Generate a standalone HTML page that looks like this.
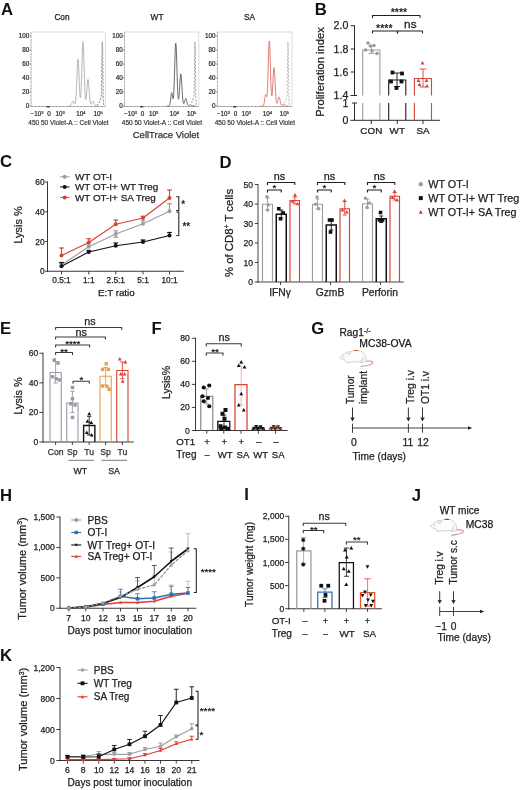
<!DOCTYPE html>
<html><head><meta charset="utf-8"><title>Figure</title>
<style>html,body{margin:0;padding:0;background:#fff}svg{display:block}text{font-family:'Liberation Sans', sans-serif}</style></head>
<body>
<svg width="520" height="790" viewBox="0 0 520 790" font-family="Liberation Sans, sans-serif">
<rect width="520" height="790" fill="#fff"/>
<text x="0.9" y="15" font-size="16.7" text-anchor="start" fill="#111" font-weight="bold">A</text>
<rect x="31" y="32" width="74.6" height="74.5" stroke="#b8b8b8" stroke-width="0.5" fill="none"/>
<line x1="31" y1="32" x2="31" y2="106.5" stroke="#777" stroke-width="0.8" stroke-dasharray="0.5 0.9"/>
<line x1="31" y1="106.5" x2="105.6" y2="106.5" stroke="#666" stroke-width="0.9" stroke-dasharray="0.6 0.8"/>
<text x="62" y="20" font-size="8.3" text-anchor="middle" fill="#222" stroke="#222" stroke-width="0.25">Con</text>
<text x="29.2" y="108.2" font-size="6.3" text-anchor="end" fill="#222" stroke="#222" stroke-width="0.18">0</text>
<line x1="29.5" y1="106.0" x2="31" y2="106.0" stroke="#444" stroke-width="0.6"/>
<text x="29.2" y="94.2" font-size="6.3" text-anchor="end" fill="#222" stroke="#222" stroke-width="0.18">20</text>
<line x1="29.5" y1="92.0" x2="31" y2="92.0" stroke="#444" stroke-width="0.6"/>
<text x="29.2" y="80.2" font-size="6.3" text-anchor="end" fill="#222" stroke="#222" stroke-width="0.18">40</text>
<line x1="29.5" y1="78.0" x2="31" y2="78.0" stroke="#444" stroke-width="0.6"/>
<text x="29.2" y="66.2" font-size="6.3" text-anchor="end" fill="#222" stroke="#222" stroke-width="0.18">60</text>
<line x1="29.5" y1="64.0" x2="31" y2="64.0" stroke="#444" stroke-width="0.6"/>
<text x="29.2" y="52.2" font-size="6.3" text-anchor="end" fill="#222" stroke="#222" stroke-width="0.18">80</text>
<line x1="29.5" y1="50.0" x2="31" y2="50.0" stroke="#444" stroke-width="0.6"/>
<text x="29.2" y="38.2" font-size="6.3" text-anchor="end" fill="#222" stroke="#222" stroke-width="0.18">100</text>
<line x1="29.5" y1="36.0" x2="31" y2="36.0" stroke="#444" stroke-width="0.6"/>
<text x="37" y="116" font-size="6.3" text-anchor="middle" fill="#222" stroke="#222" stroke-width="0.18">−10<tspan dy="-2.2" font-size="4">3</tspan></text>
<text x="49" y="116" font-size="6.3" text-anchor="middle" fill="#222" stroke="#222" stroke-width="0.18">0</text>
<text x="60" y="116" font-size="6.3" text-anchor="middle" fill="#222" stroke="#222" stroke-width="0.18">10<tspan dy="-2.2" font-size="4">3</tspan></text>
<text x="80.9" y="116" font-size="6.3" text-anchor="middle" fill="#222" stroke="#222" stroke-width="0.18">10<tspan dy="-2.2" font-size="4">4</tspan></text>
<text x="98" y="116" font-size="6.3" text-anchor="middle" fill="#222" stroke="#222" stroke-width="0.18">10<tspan dy="-2.2" font-size="4">5</tspan></text>
<rect x="46.67" y="106.2" width="3.2" height="1.2" stroke="none" stroke-width="1" fill="#222"/>
<text x="68.5" y="125.2" font-size="6.5" text-anchor="middle" fill="#333" stroke="#333" stroke-width="0.18">450 50 Violet-A :: Cell Violet</text>
<path d="M68 106.0 L68.25 106.0 L68.5 106.0 L68.75 106.0 L69.0 105.99 L69.25 105.99 L69.5 105.97 L69.75 105.94 L70.0 105.88 L70.25 105.78 L70.5 105.63 L70.75 105.4 L71.0 105.06 L71.25 104.62 L71.5 104.07 L71.75 103.43 L72.0 102.76 L72.25 102.12 L72.5 101.58 L72.75 101.22 L73.0 101.1 L73.25 101.22 L73.5 101.57 L73.75 102.09 L74.0 102.7 L74.25 103.29 L74.5 103.77 L74.75 104.02 L75.0 103.92 L75.25 103.33 L75.5 102.09 L75.75 100.0 L76.0 96.9 L76.25 92.71 L76.5 87.46 L76.75 81.39 L77.0 74.97 L77.25 68.82 L77.5 63.7 L77.75 60.29 L78.0 59.1 L78.25 60.29 L78.5 63.69 L78.75 68.79 L79.0 74.89 L79.25 81.22 L79.5 87.08 L79.75 91.95 L80.0 95.46 L80.25 97.38 L80.5 97.59 L80.75 95.99 L81.0 92.53 L81.25 87.24 L81.5 80.29 L81.75 72.09 L82.0 63.34 L82.25 54.93 L82.5 47.91 L82.75 43.24 L83.0 41.6 L83.25 43.24 L83.5 47.91 L83.75 54.94 L84.0 63.36 L84.25 72.15 L84.5 80.42 L84.75 87.49 L85.0 93.02 L85.25 96.88 L85.5 99.12 L85.75 99.89 L86.0 99.34 L86.25 97.68 L86.5 95.09 L86.75 91.86 L87.0 88.32 L87.25 84.88 L87.5 82.0 L87.75 80.07 L88.0 79.4 L88.25 80.08 L88.5 82.01 L88.75 84.91 L89.0 88.4 L89.25 92.04 L89.5 95.47 L89.75 98.43 L90.0 100.79 L90.25 102.5 L90.5 103.62 L90.75 104.23 L91.0 104.42 L91.25 104.28 L91.5 103.9 L91.75 103.35 L92.0 102.72 L92.25 102.1 L92.5 101.57 L92.75 101.22 L93.0 101.1 L93.25 101.22 L93.5 101.58 L93.75 102.12 L94.0 102.76 L94.25 103.43 L94.5 104.07 L94.75 104.62 L95.0 105.06 L95.25 105.4 L95.5 105.63 L95.75 105.78 L96.0 105.88 L96.25 105.94 L96.5 105.97 L96.75 105.99 L97.0 105.99 L97.25 106.0 L97.5 106.0 L97.75 106.0 L98.0 106.0" stroke="#a9a9b2" stroke-width="0.85" fill="none" stroke-linejoin="round"/>
<path d="M96.8 105.8C98.3 104.5 100.1 101 101.4 96L102.15 42L102.45 42L103.2 99L103.7 105.5" stroke="#a3a3a3" stroke-width="1.3" fill="none" stroke-dasharray="2.2 1.3" stroke-linejoin="round"/>
<rect x="124.5" y="32" width="74.4" height="74.5" stroke="#b8b8b8" stroke-width="0.5" fill="none"/>
<line x1="124.5" y1="32" x2="124.5" y2="106.5" stroke="#777" stroke-width="0.8" stroke-dasharray="0.5 0.9"/>
<line x1="124.5" y1="106.5" x2="198.9" y2="106.5" stroke="#666" stroke-width="0.9" stroke-dasharray="0.6 0.8"/>
<text x="157" y="20" font-size="8.3" text-anchor="middle" fill="#222" stroke="#222" stroke-width="0.25">WT</text>
<text x="122.7" y="108.2" font-size="6.3" text-anchor="end" fill="#222" stroke="#222" stroke-width="0.18">0</text>
<line x1="123.0" y1="106.0" x2="124.5" y2="106.0" stroke="#444" stroke-width="0.6"/>
<text x="122.7" y="94.2" font-size="6.3" text-anchor="end" fill="#222" stroke="#222" stroke-width="0.18">20</text>
<line x1="123.0" y1="92.0" x2="124.5" y2="92.0" stroke="#444" stroke-width="0.6"/>
<text x="122.7" y="80.2" font-size="6.3" text-anchor="end" fill="#222" stroke="#222" stroke-width="0.18">40</text>
<line x1="123.0" y1="78.0" x2="124.5" y2="78.0" stroke="#444" stroke-width="0.6"/>
<text x="122.7" y="66.2" font-size="6.3" text-anchor="end" fill="#222" stroke="#222" stroke-width="0.18">60</text>
<line x1="123.0" y1="64.0" x2="124.5" y2="64.0" stroke="#444" stroke-width="0.6"/>
<text x="122.7" y="52.2" font-size="6.3" text-anchor="end" fill="#222" stroke="#222" stroke-width="0.18">80</text>
<line x1="123.0" y1="50.0" x2="124.5" y2="50.0" stroke="#444" stroke-width="0.6"/>
<text x="122.7" y="38.2" font-size="6.3" text-anchor="end" fill="#222" stroke="#222" stroke-width="0.18">100</text>
<line x1="123.0" y1="36.0" x2="124.5" y2="36.0" stroke="#444" stroke-width="0.6"/>
<text x="130.5" y="116" font-size="6.3" text-anchor="middle" fill="#222" stroke="#222" stroke-width="0.18">−10<tspan dy="-2.2" font-size="4">3</tspan></text>
<text x="142.5" y="116" font-size="6.3" text-anchor="middle" fill="#222" stroke="#222" stroke-width="0.18">0</text>
<text x="153.5" y="116" font-size="6.3" text-anchor="middle" fill="#222" stroke="#222" stroke-width="0.18">10<tspan dy="-2.2" font-size="4">3</tspan></text>
<text x="174.4" y="116" font-size="6.3" text-anchor="middle" fill="#222" stroke="#222" stroke-width="0.18">10<tspan dy="-2.2" font-size="4">4</tspan></text>
<text x="191.5" y="116" font-size="6.3" text-anchor="middle" fill="#222" stroke="#222" stroke-width="0.18">10<tspan dy="-2.2" font-size="4">5</tspan></text>
<rect x="140.12" y="106.2" width="3.2" height="1.2" stroke="none" stroke-width="1" fill="#222"/>
<text x="162.0" y="125.2" font-size="6.5" text-anchor="middle" fill="#333" stroke="#333" stroke-width="0.18">450 50 Violet-A :: Cell Violet</text>
<path d="M166.7 106.0 L166.95 106.0 L167.2 106.0 L167.45 106.0 L167.7 106.0 L167.95 106.0 L168.2 105.99 L168.45 105.98 L168.7 105.95 L168.95 105.88 L169.2 105.72 L169.45 105.42 L169.7 104.87 L169.95 103.99 L170.2 102.68 L170.45 100.93 L170.7 98.82 L170.95 96.6 L171.2 94.59 L171.45 93.18 L171.7 92.64 L171.95 93.07 L172.2 94.3 L172.45 95.99 L172.7 97.64 L172.95 98.73 L173.2 98.83 L173.45 97.56 L173.7 94.69 L173.95 90.1 L174.2 83.85 L174.45 76.21 L174.7 67.74 L174.95 59.24 L175.2 51.7 L175.45 46.11 L175.7 43.26 L175.95 43.58 L176.2 47.03 L176.45 53.08 L176.7 60.89 L176.95 69.45 L177.2 77.82 L177.45 85.24 L177.7 91.22 L177.95 95.55 L178.2 98.2 L178.45 99.25 L178.7 98.84 L178.95 97.13 L179.2 94.29 L179.45 90.58 L179.7 86.35 L179.95 82.06 L180.2 78.23 L180.45 75.38 L180.7 73.93 L180.95 74.1 L181.2 75.86 L181.45 78.96 L181.7 82.95 L181.95 87.34 L182.2 91.64 L182.45 95.47 L182.7 98.61 L182.95 100.96 L183.2 102.55 L183.45 103.45 L183.7 103.76 L183.95 103.59 L184.2 103.06 L184.45 102.24 L184.7 101.27 L184.95 100.26 L185.2 99.35 L185.45 98.68 L185.7 98.33 L185.95 98.37 L186.2 98.79 L186.45 99.53 L186.7 100.49 L186.95 101.54 L187.2 102.57 L187.45 103.5 L187.7 104.26 L187.95 104.85 L188.2 105.27 L188.45 105.52 L188.7 105.65 L188.95 105.66 L189.2 105.56 L189.45 105.38 L189.7 105.14 L189.95 104.89 L190.2 104.69 L190.45 104.6 L190.7 104.64 L190.95 104.8 L191.2 105.05 L191.45 105.31 L191.7 105.55 L191.95 105.73 L192.2 105.85 L192.45 105.93 L192.7 105.97 L192.95 105.99 L193.2 106.0 L193.45 106.0 L193.7 106.0 L193.95 106.0 L194.2 106.0 L194.45 106.0 L194.7 106.0 L194.95 106.0 L195.2 106.0 L195.45 106.0" stroke="#5a5a5e" stroke-width="0.9" fill="none" stroke-linejoin="round"/>
<path d="M189.5 105.8C191 104.5 192.8 101 194.1 96L194.85 42L195.15 42L195.9 99L196.4 105.5" stroke="#a3a3a3" stroke-width="1.0" fill="none" stroke-dasharray="2.2 1.3" stroke-linejoin="round"/>
<rect x="217.4" y="32" width="74.6" height="74.5" stroke="#b8b8b8" stroke-width="0.5" fill="none"/>
<line x1="217.4" y1="32" x2="217.4" y2="106.5" stroke="#777" stroke-width="0.8" stroke-dasharray="0.5 0.9"/>
<line x1="217.4" y1="106.5" x2="292" y2="106.5" stroke="#666" stroke-width="0.9" stroke-dasharray="0.6 0.8"/>
<text x="249.5" y="20" font-size="8.3" text-anchor="middle" fill="#222" stroke="#222" stroke-width="0.25">SA</text>
<text x="215.6" y="108.2" font-size="6.3" text-anchor="end" fill="#222" stroke="#222" stroke-width="0.18">0</text>
<line x1="215.9" y1="106.0" x2="217.4" y2="106.0" stroke="#444" stroke-width="0.6"/>
<text x="215.6" y="94.2" font-size="6.3" text-anchor="end" fill="#222" stroke="#222" stroke-width="0.18">20</text>
<line x1="215.9" y1="92.0" x2="217.4" y2="92.0" stroke="#444" stroke-width="0.6"/>
<text x="215.6" y="80.2" font-size="6.3" text-anchor="end" fill="#222" stroke="#222" stroke-width="0.18">40</text>
<line x1="215.9" y1="78.0" x2="217.4" y2="78.0" stroke="#444" stroke-width="0.6"/>
<text x="215.6" y="66.2" font-size="6.3" text-anchor="end" fill="#222" stroke="#222" stroke-width="0.18">60</text>
<line x1="215.9" y1="64.0" x2="217.4" y2="64.0" stroke="#444" stroke-width="0.6"/>
<text x="215.6" y="52.2" font-size="6.3" text-anchor="end" fill="#222" stroke="#222" stroke-width="0.18">80</text>
<line x1="215.9" y1="50.0" x2="217.4" y2="50.0" stroke="#444" stroke-width="0.6"/>
<text x="215.6" y="38.2" font-size="6.3" text-anchor="end" fill="#222" stroke="#222" stroke-width="0.18">100</text>
<line x1="215.9" y1="36.0" x2="217.4" y2="36.0" stroke="#444" stroke-width="0.6"/>
<text x="223.4" y="116" font-size="6.3" text-anchor="middle" fill="#222" stroke="#222" stroke-width="0.18">−10<tspan dy="-2.2" font-size="4">3</tspan></text>
<text x="235.4" y="116" font-size="6.3" text-anchor="middle" fill="#222" stroke="#222" stroke-width="0.18">0</text>
<text x="246.4" y="116" font-size="6.3" text-anchor="middle" fill="#222" stroke="#222" stroke-width="0.18">10<tspan dy="-2.2" font-size="4">3</tspan></text>
<text x="267.3" y="116" font-size="6.3" text-anchor="middle" fill="#222" stroke="#222" stroke-width="0.18">10<tspan dy="-2.2" font-size="4">4</tspan></text>
<text x="284.4" y="116" font-size="6.3" text-anchor="middle" fill="#222" stroke="#222" stroke-width="0.18">10<tspan dy="-2.2" font-size="4">5</tspan></text>
<rect x="233.07" y="106.2" width="3.2" height="1.2" stroke="none" stroke-width="1" fill="#222"/>
<text x="254.9" y="125.2" font-size="6.5" text-anchor="middle" fill="#333" stroke="#333" stroke-width="0.18">450 50 Violet-A :: Cell Violet</text>
<path d="M260.6 106.0 L260.85 106.0 L261.1 106.0 L261.35 106.0 L261.6 106.0 L261.85 106.0 L262.1 105.99 L262.35 105.98 L262.6 105.96 L262.85 105.89 L263.1 105.76 L263.35 105.51 L263.6 105.05 L263.85 104.31 L264.1 103.21 L264.35 101.73 L264.6 99.95 L264.85 98.07 L265.1 96.36 L265.35 95.12 L265.6 94.57 L265.85 94.75 L266.1 95.46 L266.35 96.3 L266.6 96.76 L266.85 96.28 L267.1 94.4 L267.35 90.78 L267.6 85.33 L267.85 78.2 L268.1 69.86 L268.35 61.06 L268.6 52.79 L268.85 46.11 L269.1 41.96 L269.35 40.96 L269.6 43.26 L269.85 48.52 L270.1 55.96 L270.35 64.56 L270.6 73.29 L270.85 81.24 L271.1 87.74 L271.35 92.42 L271.6 95.12 L271.85 95.87 L272.1 94.79 L272.35 92.11 L272.6 88.15 L272.85 83.35 L273.1 78.28 L273.35 73.59 L273.6 69.93 L273.85 67.84 L274.1 67.65 L274.35 69.4 L274.6 72.82 L274.85 77.43 L275.1 82.63 L275.35 87.83 L275.6 92.56 L275.85 96.49 L276.1 99.49 L276.35 101.57 L276.6 102.8 L276.85 103.31 L277.1 103.23 L277.35 102.67 L277.6 101.77 L277.85 100.65 L278.1 99.45 L278.35 98.34 L278.6 97.48 L278.85 96.98 L279.1 96.94 L279.35 97.35 L279.6 98.16 L279.85 99.25 L280.1 100.48 L280.35 101.71 L280.6 102.84 L280.85 103.78 L281.1 104.51 L281.35 105.02 L281.6 105.34 L281.85 105.48 L282.1 105.48 L282.35 105.34 L282.6 105.09 L282.85 104.78 L283.1 104.44 L283.35 104.14 L283.6 103.95 L283.85 103.9 L284.1 104.01 L284.35 104.26 L284.6 104.59 L284.85 104.94 L285.1 105.26 L285.35 105.52 L285.6 105.72 L285.85 105.84 L286.1 105.92 L286.35 105.96 L286.6 105.98 L286.85 105.99 L287.1 106.0 L287.35 106.0 L287.6 106.0 L287.85 106.0 L288.1 106.0 L288.35 106.0 L288.6 106.0" stroke="#e0766c" stroke-width="0.95" fill="none" stroke-linejoin="round"/>
<path d="M282.5 105.8C284 104.5 285.8 101 287.1 96L287.85 42L288.15 42L288.9 99L289.4 105.5" stroke="#a3a3a3" stroke-width="0.7" fill="none" stroke-dasharray="2.2 1.3" stroke-linejoin="round"/>
<text x="166" y="138" font-size="9.5" text-anchor="middle" fill="#333" stroke="#333" stroke-width="0.25">CellTrace Violet</text>
<text x="314.8" y="15.2" font-size="16.7" text-anchor="start" fill="#111" font-weight="bold">B</text>
<text x="324" y="72" font-size="11.2" text-anchor="middle" fill="#222" transform="rotate(-90 324 72)" stroke="#222" stroke-width="0.25">Proliferation index</text>
<line x1="354.5" y1="25.3" x2="354.5" y2="95.5" stroke="#231f20" stroke-width="0.95"/>
<line x1="354.5" y1="103" x2="354.5" y2="120.7" stroke="#231f20" stroke-width="0.95"/>
<line x1="350.3" y1="120.3" x2="440" y2="120.3" stroke="#231f20" stroke-width="0.95"/>
<line x1="350.5" y1="95.5" x2="357" y2="95.5" stroke="#231f20" stroke-width="0.95"/>
<line x1="352" y1="103" x2="357" y2="103" stroke="#231f20" stroke-width="0.95"/>
<line x1="350.7" y1="25.75" x2="354.5" y2="25.75" stroke="#231f20" stroke-width="0.95"/>
<line x1="350.7" y1="49" x2="354.5" y2="49" stroke="#231f20" stroke-width="0.95"/>
<line x1="350.7" y1="72" x2="354.5" y2="72" stroke="#231f20" stroke-width="0.95"/>
<text x="348.3" y="29.45" font-size="10.6" text-anchor="end" fill="#222" stroke="#222" stroke-width="0.25">2.0</text>
<text x="348.3" y="52.7" font-size="10.6" text-anchor="end" fill="#222" stroke="#222" stroke-width="0.25">1.8</text>
<text x="348.3" y="75.7" font-size="10.6" text-anchor="end" fill="#222" stroke="#222" stroke-width="0.25">1.6</text>
<text x="348.3" y="98.7" font-size="10.6" text-anchor="end" fill="#222" stroke="#222" stroke-width="0.25">1.4</text>
<text x="348.3" y="106.9" font-size="10.6" text-anchor="end" fill="#222" stroke="#222" stroke-width="0.25">1</text>
<text x="348.3" y="124.2" font-size="10.6" text-anchor="end" fill="#222" stroke="#222" stroke-width="0.25">0</text>
<path d="M362.7 95.5V50H379.9V95.5" stroke="#9b9ba1" stroke-width="1.1" fill="none"/>
<line x1="362.7" y1="103" x2="362.7" y2="120" stroke="#9b9ba1" stroke-width="1.1"/>
<line x1="379.9" y1="103" x2="379.9" y2="120" stroke="#9b9ba1" stroke-width="1.1"/>
<line x1="371.3" y1="120.3" x2="371.3" y2="124" stroke="#231f20" stroke-width="0.95"/>
<text x="0" y="0" font-size="8.8" text-anchor="middle" fill="#222" transform="translate(371.3 134.2) scale(1.12 1)" stroke="#222" stroke-width="0.25">CON</text>
<path d="M388.7 95.5V80H405.8V95.5" stroke="#1a1a1a" stroke-width="1.1" fill="none"/>
<line x1="388.7" y1="103" x2="388.7" y2="120" stroke="#1a1a1a" stroke-width="1.1"/>
<line x1="405.8" y1="103" x2="405.8" y2="120" stroke="#1a1a1a" stroke-width="1.1"/>
<line x1="397.25" y1="120.3" x2="397.25" y2="124" stroke="#231f20" stroke-width="0.95"/>
<text x="0" y="0" font-size="8.8" text-anchor="middle" fill="#222" transform="translate(397.25 134.2) scale(1.12 1)" stroke="#222" stroke-width="0.25">WT</text>
<path d="M414.4 95.5V78.5H431.5V95.5" stroke="#d3473f" stroke-width="1.1" fill="none"/>
<line x1="414.4" y1="103" x2="414.4" y2="120" stroke="#d3473f" stroke-width="1.1"/>
<line x1="431.5" y1="103" x2="431.5" y2="120" stroke="#d3473f" stroke-width="1.1"/>
<line x1="422.95" y1="120.3" x2="422.95" y2="124" stroke="#231f20" stroke-width="0.95"/>
<text x="0" y="0" font-size="8.8" text-anchor="middle" fill="#222" transform="translate(422.95 134.2) scale(1.12 1)" stroke="#222" stroke-width="0.25">SA</text>
<circle cx="368" cy="43" r="1.8" fill="#9b9ba1" stroke="none" stroke-width="0"/>
<circle cx="370.5" cy="46" r="1.8" fill="#9b9ba1" stroke="none" stroke-width="0"/>
<circle cx="374" cy="45.5" r="1.8" fill="#9b9ba1" stroke="none" stroke-width="0"/>
<circle cx="372" cy="51" r="1.8" fill="#9b9ba1" stroke="none" stroke-width="0"/>
<circle cx="377" cy="53.5" r="1.8" fill="#9b9ba1" stroke="none" stroke-width="0"/>
<circle cx="365.5" cy="50" r="1.8" fill="#9b9ba1" stroke="none" stroke-width="0"/>
<line x1="371.5" y1="46" x2="371.5" y2="53.5" stroke="#9b9ba1" stroke-width="0.9"/>
<line x1="368.5" y1="46" x2="374.5" y2="46" stroke="#9b9ba1" stroke-width="0.9"/>
<line x1="368.5" y1="53.5" x2="374.5" y2="53.5" stroke="#9b9ba1" stroke-width="0.9"/>
<rect x="390.6" y="70.6" width="3.8" height="3.8" fill="#111"/>
<rect x="400.1" y="71.6" width="3.8" height="3.8" fill="#111"/>
<rect x="389.1" y="79.6" width="3.8" height="3.8" fill="#111"/>
<rect x="399.6" y="79.6" width="3.8" height="3.8" fill="#111"/>
<rect x="394.6" y="86.1" width="3.8" height="3.8" fill="#111"/>
<line x1="397" y1="73" x2="397" y2="86.5" stroke="#111" stroke-width="0.9"/>
<line x1="394" y1="73" x2="400" y2="73" stroke="#111" stroke-width="0.9"/>
<line x1="394" y1="86.5" x2="400" y2="86.5" stroke="#111" stroke-width="0.9"/>
<polygon points="420.5,64.6 424.5,64.6 422.5,61.0" fill="#d3473f"/>
<polygon points="416.5,82.1 420.5,82.1 418.5,78.5" fill="#d3473f"/>
<polygon points="424.5,82.1 428.5,82.1 426.5,78.5" fill="#d3473f"/>
<polygon points="417.5,86.1 421.5,86.1 419.5,82.5" fill="#d3473f"/>
<polygon points="425.0,87.6 429.0,87.6 427,84.0" fill="#d3473f"/>
<line x1="423" y1="69" x2="423" y2="87" stroke="#d3473f" stroke-width="0.9"/>
<line x1="419.5" y1="69" x2="426.5" y2="69" stroke="#d3473f" stroke-width="0.9"/>
<line x1="419.5" y1="87" x2="426.5" y2="87" stroke="#d3473f" stroke-width="0.9"/>
<path d="M372.5 17.5V15.5H420V17.5" stroke="#231f20" stroke-width="1.05" fill="none" stroke-linejoin="round" stroke-linecap="round"/>
<text x="399" y="16.36" font-size="10.6" text-anchor="middle" fill="#222" font-weight="bold">****</text>
<path d="M372.5 33V31H397.3V33" stroke="#231f20" stroke-width="1.05" fill="none" stroke-linejoin="round" stroke-linecap="round"/>
<path d="M397.7 33V31H422.5V33" stroke="#231f20" stroke-width="1.05" fill="none" stroke-linejoin="round" stroke-linecap="round"/>
<text x="384.3" y="31.66" font-size="10.6" text-anchor="middle" fill="#222" font-weight="bold">****</text>
<text x="0" y="0" font-size="11" text-anchor="middle" fill="#222" transform="translate(410.3 27.6) scale(1.08 1)" stroke="#222" stroke-width="0.25">ns</text>
<text x="0.1" y="167.3" font-size="16.7" text-anchor="start" fill="#111" font-weight="bold">C</text>
<text x="21.8" y="225" font-size="11" text-anchor="middle" fill="#222" transform="rotate(-90 21.8 225)" stroke="#222" stroke-width="0.25">Lysis %</text>
<line x1="47.5" y1="181.5" x2="47.5" y2="271.8" stroke="#231f20" stroke-width="0.9"/>
<line x1="47.0" y1="271.25" x2="183.8" y2="271.25" stroke="#231f20" stroke-width="0.9"/>
<line x1="45.1" y1="271.25" x2="47.5" y2="271.25" stroke="#231f20" stroke-width="0.85"/>
<text x="44.7" y="274.25" font-size="8.4" text-anchor="end" fill="#222" stroke="#222" stroke-width="0.25">0</text>
<line x1="45.1" y1="241.5" x2="47.5" y2="241.5" stroke="#231f20" stroke-width="0.85"/>
<text x="44.7" y="244.5" font-size="8.4" text-anchor="end" fill="#222" stroke="#222" stroke-width="0.25">20</text>
<line x1="45.1" y1="211.75" x2="47.5" y2="211.75" stroke="#231f20" stroke-width="0.85"/>
<text x="44.7" y="214.75" font-size="8.4" text-anchor="end" fill="#222" stroke="#222" stroke-width="0.25">40</text>
<line x1="45.1" y1="182.0" x2="47.5" y2="182.0" stroke="#231f20" stroke-width="0.85"/>
<text x="44.7" y="185.0" font-size="8.4" text-anchor="end" fill="#222" stroke="#222" stroke-width="0.25">60</text>
<line x1="61.5" y1="271.25" x2="61.5" y2="274.45" stroke="#231f20" stroke-width="0.85"/>
<text x="61.5" y="283.2" font-size="8.3" text-anchor="middle" fill="#222" stroke="#222" stroke-width="0.25">0.5:1</text>
<line x1="88.75" y1="271.25" x2="88.75" y2="274.45" stroke="#231f20" stroke-width="0.85"/>
<text x="88.75" y="283.2" font-size="8.3" text-anchor="middle" fill="#222" stroke="#222" stroke-width="0.25">1:1</text>
<line x1="115.75" y1="271.25" x2="115.75" y2="274.45" stroke="#231f20" stroke-width="0.85"/>
<text x="115.75" y="283.2" font-size="8.3" text-anchor="middle" fill="#222" stroke="#222" stroke-width="0.25">2.5:1</text>
<line x1="143" y1="271.25" x2="143" y2="274.45" stroke="#231f20" stroke-width="0.85"/>
<text x="143" y="283.2" font-size="8.3" text-anchor="middle" fill="#222" stroke="#222" stroke-width="0.25">5:1</text>
<line x1="169.5" y1="271.25" x2="169.5" y2="274.45" stroke="#231f20" stroke-width="0.85"/>
<text x="169.5" y="283.2" font-size="8.3" text-anchor="middle" fill="#222" stroke="#222" stroke-width="0.25">10:1</text>
<text x="116.3" y="296" font-size="9.8" text-anchor="middle" fill="#222" stroke="#222" stroke-width="0.25">E:T ratio</text>
<path d="M61.5 265 L88.75 246.75 L115.75 234 L143 223.75 L169.5 211.25" stroke="#9c9ca2" stroke-width="1.1" fill="none" stroke-linejoin="round"/>
<line x1="61.5" y1="263" x2="61.5" y2="265" stroke="#9c9ca2" stroke-width="1.1"/>
<line x1="59.2" y1="263" x2="63.8" y2="263" stroke="#9c9ca2" stroke-width="1.25"/>
<circle cx="61.5" cy="265" r="2.0" fill="#9c9ca2" stroke="none" stroke-width="0"/>
<line x1="88.75" y1="245" x2="88.75" y2="246.75" stroke="#9c9ca2" stroke-width="1.1"/>
<line x1="86.45" y1="245" x2="91.05" y2="245" stroke="#9c9ca2" stroke-width="1.25"/>
<circle cx="88.75" cy="246.75" r="2.0" fill="#9c9ca2" stroke="none" stroke-width="0"/>
<line x1="115.75" y1="230.75" x2="115.75" y2="237.2" stroke="#9c9ca2" stroke-width="1.1"/>
<line x1="113.45" y1="230.75" x2="118.05" y2="230.75" stroke="#9c9ca2" stroke-width="1.25"/>
<line x1="113.45" y1="237.2" x2="118.05" y2="237.2" stroke="#9c9ca2" stroke-width="1.25"/>
<circle cx="115.75" cy="234" r="2.0" fill="#9c9ca2" stroke="none" stroke-width="0"/>
<line x1="143" y1="220.75" x2="143" y2="223.75" stroke="#9c9ca2" stroke-width="1.1"/>
<line x1="140.7" y1="220.75" x2="145.3" y2="220.75" stroke="#9c9ca2" stroke-width="1.25"/>
<circle cx="143" cy="223.75" r="2.0" fill="#9c9ca2" stroke="none" stroke-width="0"/>
<line x1="169.5" y1="203.75" x2="169.5" y2="211.25" stroke="#9c9ca2" stroke-width="1.1"/>
<line x1="167.2" y1="203.75" x2="171.8" y2="203.75" stroke="#9c9ca2" stroke-width="1.25"/>
<circle cx="169.5" cy="211.25" r="2.0" fill="#9c9ca2" stroke="none" stroke-width="0"/>
<path d="M61.5 266.25 L88.75 252 L115.75 245.75 L143 242 L169.5 235.5" stroke="#111" stroke-width="1.1" fill="none" stroke-linejoin="round"/>
<line x1="61.5" y1="262.5" x2="61.5" y2="266.25" stroke="#111" stroke-width="1.1"/>
<line x1="59.2" y1="262.5" x2="63.8" y2="262.5" stroke="#111" stroke-width="1.25"/>
<circle cx="61.5" cy="266.25" r="2.0" fill="#111" stroke="none" stroke-width="0"/>
<line x1="88.75" y1="250.5" x2="88.75" y2="252" stroke="#111" stroke-width="1.1"/>
<line x1="86.45" y1="250.5" x2="91.05" y2="250.5" stroke="#111" stroke-width="1.25"/>
<circle cx="88.75" cy="252" r="2.0" fill="#111" stroke="none" stroke-width="0"/>
<line x1="115.75" y1="243" x2="115.75" y2="245.75" stroke="#111" stroke-width="1.1"/>
<line x1="113.45" y1="243" x2="118.05" y2="243" stroke="#111" stroke-width="1.25"/>
<circle cx="115.75" cy="245.75" r="2.0" fill="#111" stroke="none" stroke-width="0"/>
<line x1="143" y1="240" x2="143" y2="242" stroke="#111" stroke-width="1.1"/>
<line x1="140.7" y1="240" x2="145.3" y2="240" stroke="#111" stroke-width="1.25"/>
<circle cx="143" cy="242" r="2.0" fill="#111" stroke="none" stroke-width="0"/>
<line x1="169.5" y1="232.5" x2="169.5" y2="235.5" stroke="#111" stroke-width="1.1"/>
<line x1="167.2" y1="232.5" x2="171.8" y2="232.5" stroke="#111" stroke-width="1.25"/>
<circle cx="169.5" cy="235.5" r="2.0" fill="#111" stroke="none" stroke-width="0"/>
<path d="M61.5 255.5 L88.75 242.5 L115.75 224.3 L143 218 L169.5 198" stroke="#d8402f" stroke-width="1.1" fill="none" stroke-linejoin="round"/>
<line x1="61.5" y1="248" x2="61.5" y2="255.5" stroke="#d8402f" stroke-width="1.1"/>
<line x1="59.2" y1="248" x2="63.8" y2="248" stroke="#d8402f" stroke-width="1.25"/>
<circle cx="61.5" cy="255.5" r="2.0" fill="#d8402f" stroke="none" stroke-width="0"/>
<line x1="88.75" y1="238.75" x2="88.75" y2="242.5" stroke="#d8402f" stroke-width="1.1"/>
<line x1="86.45" y1="238.75" x2="91.05" y2="238.75" stroke="#d8402f" stroke-width="1.25"/>
<circle cx="88.75" cy="242.5" r="2.0" fill="#d8402f" stroke="none" stroke-width="0"/>
<line x1="115.75" y1="220" x2="115.75" y2="224.3" stroke="#d8402f" stroke-width="1.1"/>
<line x1="113.45" y1="220" x2="118.05" y2="220" stroke="#d8402f" stroke-width="1.25"/>
<circle cx="115.75" cy="224.3" r="2.0" fill="#d8402f" stroke="none" stroke-width="0"/>
<line x1="143" y1="216.25" x2="143" y2="218" stroke="#d8402f" stroke-width="1.1"/>
<line x1="140.7" y1="216.25" x2="145.3" y2="216.25" stroke="#d8402f" stroke-width="1.25"/>
<circle cx="143" cy="218" r="2.0" fill="#d8402f" stroke="none" stroke-width="0"/>
<line x1="169.5" y1="190" x2="169.5" y2="198" stroke="#d8402f" stroke-width="1.1"/>
<line x1="167.2" y1="190" x2="171.8" y2="190" stroke="#d8402f" stroke-width="1.25"/>
<circle cx="169.5" cy="198" r="2.0" fill="#d8402f" stroke="none" stroke-width="0"/>
<line x1="60" y1="176.75" x2="69.5" y2="176.75" stroke="#9c9ca2" stroke-width="1.0"/>
<circle cx="64.7" cy="176.75" r="2.0" fill="#9c9ca2" stroke="none" stroke-width="0"/>
<text x="75" y="180.15" font-size="9.9" text-anchor="start" fill="#222" stroke="#222" stroke-width="0.25">WT OT-I</text>
<line x1="60" y1="186.9" x2="69.5" y2="186.9" stroke="#111" stroke-width="1.0"/>
<circle cx="64.7" cy="186.9" r="2.0" fill="#111" stroke="none" stroke-width="0"/>
<text x="75" y="190.3" font-size="9.9" text-anchor="start" fill="#222" stroke="#222" stroke-width="0.25">WT OT-I+ WT Treg</text>
<line x1="60" y1="197.4" x2="69.5" y2="197.4" stroke="#d8402f" stroke-width="1.0"/>
<circle cx="64.7" cy="197.4" r="2.0" fill="#d8402f" stroke="none" stroke-width="0"/>
<text x="75" y="200.8" font-size="9.9" text-anchor="start" fill="#222" stroke="#222" stroke-width="0.25">WT OT-I+ SA Treg</text>
<path d="M176.3 196.8H178.8V210.5H176.3" stroke="#231f20" stroke-width="1.05" fill="none"/>
<path d="M176.3 212H178.8V235.5H176.3" stroke="#231f20" stroke-width="1.05" fill="none"/>
<text x="183.3" y="208.35" font-size="10" text-anchor="middle" fill="#222" font-weight="bold">*</text>
<text x="186.3" y="229.85" font-size="10" text-anchor="middle" fill="#222" font-weight="bold">**</text>
<text x="219.4" y="167.5" font-size="16.7" text-anchor="start" fill="#111" font-weight="bold">D</text>
<text x="232.5" y="233" font-size="11.4" text-anchor="middle" fill="#222" transform="rotate(-90 232.5 233)" stroke="#222" stroke-width="0.25">% of CD8<tspan dy="-3.5" font-size="6.5">+</tspan><tspan dy="3.5"> T cells</tspan></text>
<line x1="258" y1="184" x2="258" y2="282.5" stroke="#231f20" stroke-width="0.85"/>
<line x1="257.5" y1="282" x2="403.8" y2="282" stroke="#231f20" stroke-width="0.85"/>
<line x1="254.8" y1="282.0" x2="258" y2="282.0" stroke="#231f20" stroke-width="0.85"/>
<text x="253" y="285.0" font-size="8.6" text-anchor="end" fill="#222" stroke="#222" stroke-width="0.25">0</text>
<line x1="254.8" y1="262.5" x2="258" y2="262.5" stroke="#231f20" stroke-width="0.85"/>
<text x="253" y="265.5" font-size="8.6" text-anchor="end" fill="#222" stroke="#222" stroke-width="0.25">10</text>
<line x1="254.8" y1="243.0" x2="258" y2="243.0" stroke="#231f20" stroke-width="0.85"/>
<text x="253" y="246.0" font-size="8.6" text-anchor="end" fill="#222" stroke="#222" stroke-width="0.25">20</text>
<line x1="254.8" y1="223.5" x2="258" y2="223.5" stroke="#231f20" stroke-width="0.85"/>
<text x="253" y="226.5" font-size="8.6" text-anchor="end" fill="#222" stroke="#222" stroke-width="0.25">30</text>
<line x1="254.8" y1="204.0" x2="258" y2="204.0" stroke="#231f20" stroke-width="0.85"/>
<text x="253" y="207.0" font-size="8.6" text-anchor="end" fill="#222" stroke="#222" stroke-width="0.25">40</text>
<line x1="254.8" y1="184.5" x2="258" y2="184.5" stroke="#231f20" stroke-width="0.85"/>
<text x="253" y="187.5" font-size="8.6" text-anchor="end" fill="#222" stroke="#222" stroke-width="0.25">50</text>
<path d="M262.5 282V204.25H272.5V282" stroke="#9c9ca2" stroke-width="1.15" fill="none"/>
<path d="M276.25 282V214.25H286.25V282" stroke="#111" stroke-width="1.5" fill="none"/>
<path d="M290.0 282V200.5H299.5V282" stroke="#d8402f" stroke-width="1.15" fill="none"/>
<line x1="280.5" y1="282" x2="280.5" y2="285" stroke="#231f20" stroke-width="0.85"/>
<text x="280.0" y="296" font-size="10.3" text-anchor="middle" fill="#222" stroke="#222" stroke-width="0.25">IFNγ</text>
<path d="M267.5 184.5V182.5H294.8V184.5" stroke="#231f20" stroke-width="1.15" fill="none" stroke-linejoin="round" stroke-linecap="round"/>
<path d="M267.5 192V190H281.25V192" stroke="#231f20" stroke-width="1.15" fill="none" stroke-linejoin="round" stroke-linecap="round"/>
<text x="279.5" y="180.3" font-size="10.8" text-anchor="middle" fill="#222" stroke="#222" stroke-width="0.25">ns</text>
<text x="274.5" y="191.45" font-size="9.8" text-anchor="middle" fill="#222" font-weight="bold">*</text>
<path d="M312.5 282V204.25H322.5V282" stroke="#9c9ca2" stroke-width="1.15" fill="none"/>
<path d="M326.25 282V225H336.25V282" stroke="#111" stroke-width="1.5" fill="none"/>
<path d="M340.0 282V208.75H349.5V282" stroke="#d8402f" stroke-width="1.15" fill="none"/>
<line x1="330.5" y1="282" x2="330.5" y2="285" stroke="#231f20" stroke-width="0.85"/>
<text x="330.0" y="296" font-size="10.3" text-anchor="middle" fill="#222" stroke="#222" stroke-width="0.25">GzmB</text>
<path d="M317.5 184.5V182.5H344.8V184.5" stroke="#231f20" stroke-width="1.15" fill="none" stroke-linejoin="round" stroke-linecap="round"/>
<path d="M317.5 192V190H331.25V192" stroke="#231f20" stroke-width="1.15" fill="none" stroke-linejoin="round" stroke-linecap="round"/>
<text x="329.5" y="180.3" font-size="10.8" text-anchor="middle" fill="#222" stroke="#222" stroke-width="0.25">ns</text>
<text x="324.5" y="191.45" font-size="9.8" text-anchor="middle" fill="#222" font-weight="bold">*</text>
<path d="M362.5 282V203.75H372.5V282" stroke="#9c9ca2" stroke-width="1.15" fill="none"/>
<path d="M376.25 282V218.75H386.25V282" stroke="#111" stroke-width="1.5" fill="none"/>
<path d="M390.0 282V196.25H399.5V282" stroke="#d8402f" stroke-width="1.15" fill="none"/>
<line x1="380.5" y1="282" x2="380.5" y2="285" stroke="#231f20" stroke-width="0.85"/>
<text x="380.0" y="296" font-size="10.3" text-anchor="middle" fill="#222" stroke="#222" stroke-width="0.25">Perforin</text>
<path d="M367.5 184.5V182.5H394.8V184.5" stroke="#231f20" stroke-width="1.15" fill="none" stroke-linejoin="round" stroke-linecap="round"/>
<path d="M367.5 192V190H381.25V192" stroke="#231f20" stroke-width="1.15" fill="none" stroke-linejoin="round" stroke-linecap="round"/>
<text x="379.5" y="180.3" font-size="10.8" text-anchor="middle" fill="#222" stroke="#222" stroke-width="0.25">ns</text>
<text x="374.5" y="191.45" font-size="9.8" text-anchor="middle" fill="#222" font-weight="bold">*</text>
<line x1="267.5" y1="198" x2="267.5" y2="210" stroke="#9c9ca2" stroke-width="0.9"/>
<line x1="265.5" y1="198" x2="269.5" y2="198" stroke="#9c9ca2" stroke-width="0.9"/>
<line x1="265.5" y1="210" x2="269.5" y2="210" stroke="#9c9ca2" stroke-width="0.9"/>
<circle cx="267" cy="196.75" r="1.7" fill="#9c9ca2" stroke="none" stroke-width="0"/>
<circle cx="268.25" cy="205" r="1.7" fill="#9c9ca2" stroke="none" stroke-width="0"/>
<circle cx="267.5" cy="210" r="1.7" fill="#9c9ca2" stroke="none" stroke-width="0"/>
<line x1="281.25" y1="210" x2="281.25" y2="218" stroke="#111" stroke-width="0.9"/>
<line x1="279.25" y1="210" x2="283.25" y2="210" stroke="#111" stroke-width="0.9"/>
<line x1="279.25" y1="218" x2="283.25" y2="218" stroke="#111" stroke-width="0.9"/>
<rect x="276.95" y="206.95" width="3.6" height="3.6" fill="#111"/>
<rect x="281.45" y="211.2" width="3.6" height="3.6" fill="#111"/>
<rect x="278.7" y="216.95" width="3.6" height="3.6" fill="#111"/>
<line x1="294.75" y1="197" x2="294.75" y2="204" stroke="#d8402f" stroke-width="0.9"/>
<line x1="292.75" y1="197" x2="296.75" y2="197" stroke="#d8402f" stroke-width="0.9"/>
<line x1="292.75" y1="204" x2="296.75" y2="204" stroke="#d8402f" stroke-width="0.9"/>
<polygon points="293.1,196.52 296.9,196.52 295,193.1" fill="#d8402f"/>
<polygon points="290.6,202.77 294.4,202.77 292.5,199.35" fill="#d8402f"/>
<polygon points="295.6,205.27 299.4,205.27 297.5,201.85" fill="#d8402f"/>
<line x1="317.5" y1="199" x2="317.5" y2="209" stroke="#9c9ca2" stroke-width="0.9"/>
<line x1="315.5" y1="199" x2="319.5" y2="199" stroke="#9c9ca2" stroke-width="0.9"/>
<line x1="315.5" y1="209" x2="319.5" y2="209" stroke="#9c9ca2" stroke-width="0.9"/>
<circle cx="317" cy="197" r="1.7" fill="#9c9ca2" stroke="none" stroke-width="0"/>
<circle cx="315.5" cy="204.25" r="1.7" fill="#9c9ca2" stroke="none" stroke-width="0"/>
<circle cx="318.75" cy="208.75" r="1.7" fill="#9c9ca2" stroke="none" stroke-width="0"/>
<line x1="331.25" y1="220" x2="331.25" y2="230" stroke="#111" stroke-width="0.9"/>
<line x1="329.25" y1="220" x2="333.25" y2="220" stroke="#111" stroke-width="0.9"/>
<line x1="329.25" y1="230" x2="333.25" y2="230" stroke="#111" stroke-width="0.9"/>
<rect x="327.7" y="218.2" width="3.6" height="3.6" fill="#111"/>
<rect x="330.2" y="218.2" width="3.6" height="3.6" fill="#111"/>
<rect x="328.7" y="230.2" width="3.6" height="3.6" fill="#111"/>
<line x1="344.75" y1="201.5" x2="344.75" y2="215" stroke="#d8402f" stroke-width="0.9"/>
<line x1="342.75" y1="201.5" x2="346.75" y2="201.5" stroke="#d8402f" stroke-width="0.9"/>
<line x1="342.75" y1="215" x2="346.75" y2="215" stroke="#d8402f" stroke-width="0.9"/>
<polygon points="342.6,202.02 346.4,202.02 344.5,198.6" fill="#d8402f"/>
<polygon points="340.6,211.52 344.4,211.52 342.5,208.1" fill="#d8402f"/>
<polygon points="344.85,213.52 348.65,213.52 346.75,210.1" fill="#d8402f"/>
<line x1="367.5" y1="199" x2="367.5" y2="208" stroke="#9c9ca2" stroke-width="0.9"/>
<line x1="365.5" y1="199" x2="369.5" y2="199" stroke="#9c9ca2" stroke-width="0.9"/>
<line x1="365.5" y1="208" x2="369.5" y2="208" stroke="#9c9ca2" stroke-width="0.9"/>
<circle cx="365.5" cy="198.25" r="1.7" fill="#9c9ca2" stroke="none" stroke-width="0"/>
<circle cx="369.5" cy="203" r="1.7" fill="#9c9ca2" stroke="none" stroke-width="0"/>
<circle cx="367" cy="207.5" r="1.7" fill="#9c9ca2" stroke="none" stroke-width="0"/>
<line x1="381.25" y1="216" x2="381.25" y2="222.5" stroke="#111" stroke-width="0.9"/>
<line x1="379.25" y1="216" x2="383.25" y2="216" stroke="#111" stroke-width="0.9"/>
<line x1="379.25" y1="222.5" x2="383.25" y2="222.5" stroke="#111" stroke-width="0.9"/>
<rect x="378.7" y="210.7" width="3.6" height="3.6" fill="#111"/>
<rect x="377.7" y="218.2" width="3.6" height="3.6" fill="#111"/>
<rect x="380.7" y="218.2" width="3.6" height="3.6" fill="#111"/>
<line x1="394.75" y1="192.5" x2="394.75" y2="200" stroke="#d8402f" stroke-width="0.9"/>
<line x1="392.75" y1="192.5" x2="396.75" y2="192.5" stroke="#d8402f" stroke-width="0.9"/>
<line x1="392.75" y1="200" x2="396.75" y2="200" stroke="#d8402f" stroke-width="0.9"/>
<polygon points="392.6,192.77 396.4,192.77 394.5,189.35" fill="#d8402f"/>
<polygon points="390.6,199.02 394.4,199.02 392.5,195.6" fill="#d8402f"/>
<polygon points="395.1,201.52 398.9,201.52 397,198.1" fill="#d8402f"/>
<circle cx="420.8" cy="184.2" r="2.2" fill="#9c9ca2" stroke="none" stroke-width="0"/>
<text x="428.2" y="187.8" font-size="10.8" text-anchor="start" fill="#222" stroke="#222" stroke-width="0.25">WT OT-I</text>
<rect x="418.8" y="196.1" width="4.0" height="4.0" fill="#111"/>
<text x="428.2" y="201.7" font-size="10.8" text-anchor="start" fill="#222" stroke="#222" stroke-width="0.25">WT OT-I+ WT Treg</text>
<polygon points="418.7,213.68 422.9,213.68 420.8,209.9" fill="#d8402f"/>
<text x="428.2" y="215.6" font-size="10.8" text-anchor="start" fill="#222" stroke="#222" stroke-width="0.25">WT OT-I+ SA Treg</text>
<text x="0" y="334" font-size="16.7" text-anchor="start" fill="#111" font-weight="bold">E</text>
<text x="21.8" y="396" font-size="11" text-anchor="middle" fill="#222" transform="rotate(-90 21.8 396)" stroke="#222" stroke-width="0.25">Lysis %</text>
<line x1="43" y1="352.7" x2="43" y2="442.55" stroke="#231f20" stroke-width="0.9"/>
<line x1="42.5" y1="442" x2="133.8" y2="442" stroke="#231f20" stroke-width="0.9"/>
<line x1="39.3" y1="442.0" x2="43" y2="442.0" stroke="#231f20" stroke-width="0.85"/>
<text x="38.2" y="445.0" font-size="8.5" text-anchor="end" fill="#222" stroke="#222" stroke-width="0.25">0</text>
<line x1="39.3" y1="412.42" x2="43" y2="412.42" stroke="#231f20" stroke-width="0.85"/>
<text x="38.2" y="415.42" font-size="8.5" text-anchor="end" fill="#222" stroke="#222" stroke-width="0.25">20</text>
<line x1="39.3" y1="382.84" x2="43" y2="382.84" stroke="#231f20" stroke-width="0.85"/>
<text x="38.2" y="385.84" font-size="8.5" text-anchor="end" fill="#222" stroke="#222" stroke-width="0.25">40</text>
<line x1="39.3" y1="353.26" x2="43" y2="353.26" stroke="#231f20" stroke-width="0.85"/>
<text x="38.2" y="356.26" font-size="8.5" text-anchor="end" fill="#222" stroke="#222" stroke-width="0.25">60</text>
<path d="M50 442V372.5H61.25V442" stroke="#9698aa" stroke-width="1.1" fill="none"/>
<line x1="55.6" y1="442" x2="55.6" y2="445" stroke="#231f20" stroke-width="0.85"/>
<text x="55.6" y="454.5" font-size="8.6" text-anchor="middle" fill="#333" stroke="#333" stroke-width="0.25">Con</text>
<path d="M66.75 442V403H78.0V442" stroke="#9698aa" stroke-width="1.1" fill="none"/>
<line x1="72.35" y1="442" x2="72.35" y2="445" stroke="#231f20" stroke-width="0.85"/>
<text x="72.35" y="454.5" font-size="8.6" text-anchor="middle" fill="#333" stroke="#333" stroke-width="0.25">Sp</text>
<path d="M83.6 442V425.5H94.85V442" stroke="#111" stroke-width="1.4" fill="none"/>
<line x1="89.2" y1="442" x2="89.2" y2="445" stroke="#231f20" stroke-width="0.85"/>
<text x="89.2" y="454.5" font-size="8.6" text-anchor="middle" fill="#333" stroke="#333" stroke-width="0.25">Tu</text>
<path d="M100 442V376.25H111.25V442" stroke="#eba047" stroke-width="1.1" fill="none"/>
<line x1="105.6" y1="442" x2="105.6" y2="445" stroke="#231f20" stroke-width="0.85"/>
<text x="105.6" y="454.5" font-size="8.6" text-anchor="middle" fill="#333" stroke="#333" stroke-width="0.25">Sp</text>
<path d="M116.75 442V370.5H128.0V442" stroke="#d8402f" stroke-width="1.1" fill="none"/>
<line x1="122.35" y1="442" x2="122.35" y2="445" stroke="#231f20" stroke-width="0.85"/>
<text x="122.35" y="454.5" font-size="8.6" text-anchor="middle" fill="#333" stroke="#333" stroke-width="0.25">Tu</text>
<line x1="68.5" y1="460.3" x2="94" y2="460.3" stroke="#666" stroke-width="0.9"/>
<line x1="101.5" y1="460.3" x2="127" y2="460.3" stroke="#666" stroke-width="0.9"/>
<text x="80.3" y="473.8" font-size="8.8" text-anchor="middle" fill="#222" stroke="#222" stroke-width="0.25">WT</text>
<text x="114" y="473.8" font-size="8.8" text-anchor="middle" fill="#222" stroke="#222" stroke-width="0.25">SA</text>
<line x1="55.6" y1="361.5" x2="55.6" y2="383" stroke="#9698aa" stroke-width="0.9"/>
<line x1="53.4" y1="361.5" x2="57.8" y2="361.5" stroke="#9698aa" stroke-width="0.9"/>
<line x1="53.4" y1="383" x2="57.8" y2="383" stroke="#9698aa" stroke-width="0.9"/>
<rect x="52.55" y="358.3" width="3.4" height="3.4" fill="#9698aa"/>
<rect x="56.3" y="361.3" width="3.4" height="3.4" fill="#9698aa"/>
<rect x="50.8" y="375.05" width="3.4" height="3.4" fill="#9698aa"/>
<rect x="54.55" y="377.05" width="3.4" height="3.4" fill="#9698aa"/>
<rect x="57.8" y="378.3" width="3.4" height="3.4" fill="#9698aa"/>
<line x1="72.4" y1="391.3" x2="72.4" y2="412.5" stroke="#9698aa" stroke-width="0.9"/>
<line x1="70.2" y1="391.3" x2="74.6" y2="391.3" stroke="#9698aa" stroke-width="0.9"/>
<line x1="70.2" y1="412.5" x2="74.6" y2="412.5" stroke="#9698aa" stroke-width="0.9"/>
<rect x="70.8" y="385.8" width="3.4" height="3.4" fill="#9698aa"/>
<rect x="70.8" y="397.05" width="3.4" height="3.4" fill="#9698aa"/>
<rect x="69.05" y="402.05" width="3.4" height="3.4" fill="#9698aa"/>
<rect x="73.3" y="403.3" width="3.4" height="3.4" fill="#9698aa"/>
<rect x="70.8" y="415.8" width="3.4" height="3.4" fill="#9698aa"/>
<line x1="89.2" y1="416.3" x2="89.2" y2="435" stroke="#111" stroke-width="0.9"/>
<line x1="87.0" y1="416.3" x2="91.4" y2="416.3" stroke="#111" stroke-width="0.9"/>
<line x1="87.0" y1="435" x2="91.4" y2="435" stroke="#111" stroke-width="0.9"/>
<polygon points="87.35,415.27 91.15,415.27 89.25,411.85" fill="#111"/>
<polygon points="85.6,422.77 89.4,422.77 87.5,419.35" fill="#111"/>
<polygon points="89.35,424.02 93.15,424.02 91.25,420.6" fill="#111"/>
<polygon points="84.85,434.02 88.65,434.02 86.75,430.6" fill="#111"/>
<polygon points="89.85,436.52 93.65,436.52 91.75,433.1" fill="#111"/>
<line x1="105.6" y1="367.5" x2="105.6" y2="385" stroke="#eba047" stroke-width="0.9"/>
<line x1="103.4" y1="367.5" x2="107.8" y2="367.5" stroke="#eba047" stroke-width="0.9"/>
<line x1="103.4" y1="385" x2="107.8" y2="385" stroke="#eba047" stroke-width="0.9"/>
<rect x="104.6" y="362.1" width="3.4" height="3.4" fill="#eba047"/>
<rect x="101.0" y="367.7" width="3.4" height="3.4" fill="#eba047"/>
<rect x="106.6" y="367.7" width="3.4" height="3.4" fill="#eba047"/>
<rect x="100.8" y="384.3" width="3.4" height="3.4" fill="#eba047"/>
<rect x="105.3" y="384.7" width="3.4" height="3.4" fill="#eba047"/>
<rect x="107.5" y="387.7" width="3.4" height="3.4" fill="#eba047"/>
<line x1="122.4" y1="362" x2="122.4" y2="378.8" stroke="#d8402f" stroke-width="0.9"/>
<line x1="120.2" y1="362" x2="124.6" y2="362" stroke="#d8402f" stroke-width="0.9"/>
<line x1="120.2" y1="378.8" x2="124.6" y2="378.8" stroke="#d8402f" stroke-width="0.9"/>
<polygon points="117.9,360.52 121.7,360.52 119.8,357.1" fill="#d8402f"/>
<polygon points="123.5,363.52 127.3,363.52 125.4,360.1" fill="#d8402f"/>
<polygon points="118.9,375.52 122.7,375.52 120.8,372.1" fill="#d8402f"/>
<polygon points="122.7,375.52 126.5,375.52 124.6,372.1" fill="#d8402f"/>
<polygon points="120.8,382.72 124.6,382.72 122.7,379.3" fill="#d8402f"/>
<path d="M55.6 329.5V327.5H121.75V329.5" stroke="#3a3a3a" stroke-width="1.1" fill="none" stroke-linejoin="round" stroke-linecap="round"/>
<text x="90" y="324.6" font-size="10.8" text-anchor="middle" fill="#222" stroke="#222" stroke-width="0.25">ns</text>
<path d="M55.6 339V337H105.4V339" stroke="#3a3a3a" stroke-width="1.1" fill="none" stroke-linejoin="round" stroke-linecap="round"/>
<text x="81.3" y="336.2" font-size="10.8" text-anchor="middle" fill="#222" stroke="#222" stroke-width="0.25">ns</text>
<path d="M55.6 347V345H89.6V347" stroke="#3a3a3a" stroke-width="1.1" fill="none" stroke-linejoin="round" stroke-linecap="round"/>
<text x="72.8" y="347.45" font-size="9.8" text-anchor="middle" fill="#222" font-weight="bold">****</text>
<path d="M55.6 354.5V352.5H72.5V354.5" stroke="#3a3a3a" stroke-width="1.1" fill="none" stroke-linejoin="round" stroke-linecap="round"/>
<text x="64" y="355.05" font-size="9.8" text-anchor="middle" fill="#222" font-weight="bold">**</text>
<path d="M73 383.3V381.3H89.25V383.3" stroke="#3a3a3a" stroke-width="1.1" fill="none" stroke-linejoin="round" stroke-linecap="round"/>
<text x="81.3" y="383.35" font-size="9.8" text-anchor="middle" fill="#222" font-weight="bold">*</text>
<text x="151.5" y="334" font-size="16.7" text-anchor="start" fill="#111" font-weight="bold">F</text>
<text x="169.5" y="382.5" font-size="10.6" text-anchor="middle" fill="#222" transform="rotate(-90 169.5 382.5)" stroke="#222" stroke-width="0.25">Lysis%</text>
<line x1="195.5" y1="337.7" x2="195.5" y2="431.05" stroke="#231f20" stroke-width="0.9"/>
<line x1="195.0" y1="430.5" x2="287.7" y2="430.5" stroke="#231f20" stroke-width="0.9"/>
<line x1="191.8" y1="430.5" x2="195.5" y2="430.5" stroke="#231f20" stroke-width="0.85"/>
<text x="189.7" y="433.5" font-size="8.6" text-anchor="end" fill="#222" stroke="#222" stroke-width="0.25">0</text>
<line x1="191.8" y1="407.44" x2="195.5" y2="407.44" stroke="#231f20" stroke-width="0.85"/>
<text x="189.7" y="410.44" font-size="8.6" text-anchor="end" fill="#222" stroke="#222" stroke-width="0.25">20</text>
<line x1="191.8" y1="384.38" x2="195.5" y2="384.38" stroke="#231f20" stroke-width="0.85"/>
<text x="189.7" y="387.38" font-size="8.6" text-anchor="end" fill="#222" stroke="#222" stroke-width="0.25">40</text>
<line x1="191.8" y1="361.32" x2="195.5" y2="361.32" stroke="#231f20" stroke-width="0.85"/>
<text x="189.7" y="364.32" font-size="8.6" text-anchor="end" fill="#222" stroke="#222" stroke-width="0.25">60</text>
<line x1="191.8" y1="338.26" x2="195.5" y2="338.26" stroke="#231f20" stroke-width="0.85"/>
<text x="189.7" y="341.26" font-size="8.6" text-anchor="end" fill="#222" stroke="#222" stroke-width="0.25">80</text>
<path d="M200.75 430.5V396.25H212.75V430.5" stroke="#8c8c8c" stroke-width="1.25" fill="none"/>
<line x1="206.75" y1="430.5" x2="206.75" y2="433.7" stroke="#231f20" stroke-width="0.85"/>
<path d="M217.8 430.5V421.25H229.8V430.5" stroke="#111" stroke-width="1.25" fill="none"/>
<line x1="223.8" y1="430.5" x2="223.8" y2="433.7" stroke="#231f20" stroke-width="0.85"/>
<path d="M235 430.5V384.5H247V430.5" stroke="#d8402f" stroke-width="1.25" fill="none"/>
<line x1="241" y1="430.5" x2="241" y2="433.7" stroke="#231f20" stroke-width="0.85"/>
<path d="M252.3 430.5V428.8H264.3V430.5" stroke="#111" stroke-width="1.25" fill="none"/>
<line x1="258.3" y1="430.5" x2="258.3" y2="433.7" stroke="#231f20" stroke-width="0.85"/>
<path d="M269.6 430.5V428.8H281.6V430.5" stroke="#d8402f" stroke-width="1.25" fill="none"/>
<line x1="275.6" y1="430.5" x2="275.6" y2="433.7" stroke="#231f20" stroke-width="0.85"/>
<line x1="206.6" y1="388.8" x2="206.6" y2="403.8" stroke="#8c8c8c" stroke-width="0.8"/>
<line x1="204.4" y1="388.8" x2="208.8" y2="388.8" stroke="#8c8c8c" stroke-width="0.8"/>
<line x1="204.4" y1="403.8" x2="208.8" y2="403.8" stroke="#8c8c8c" stroke-width="0.8"/>
<circle cx="203.75" cy="387.5" r="2.1" fill="#111" stroke="none" stroke-width="0"/>
<circle cx="209.25" cy="385.5" r="2.1" fill="#111" stroke="none" stroke-width="0"/>
<circle cx="202.5" cy="396.25" r="2.1" fill="#111" stroke="none" stroke-width="0"/>
<circle cx="208" cy="398" r="2.1" fill="#111" stroke="none" stroke-width="0"/>
<circle cx="203.75" cy="401.25" r="2.1" fill="#111" stroke="none" stroke-width="0"/>
<circle cx="209.25" cy="406.25" r="2.1" fill="#111" stroke="none" stroke-width="0"/>
<line x1="224" y1="415" x2="224" y2="427.5" stroke="#111" stroke-width="0.8"/>
<line x1="221.8" y1="415" x2="226.2" y2="415" stroke="#111" stroke-width="0.8"/>
<line x1="221.8" y1="427.5" x2="226.2" y2="427.5" stroke="#111" stroke-width="0.8"/>
<rect x="223.5" y="408.0" width="4.0" height="4.0" fill="#111"/>
<rect x="220.5" y="411.75" width="4.0" height="4.0" fill="#111"/>
<rect x="222.5" y="416.75" width="4.0" height="4.0" fill="#111"/>
<rect x="218.5" y="424.25" width="4.0" height="4.0" fill="#111"/>
<rect x="223.0" y="425.5" width="4.0" height="4.0" fill="#111"/>
<rect x="225.5" y="426.75" width="4.0" height="4.0" fill="#111"/>
<rect x="219.25" y="426.75" width="4.0" height="4.0" fill="#111"/>
<line x1="241.2" y1="363" x2="241.2" y2="405" stroke="#e8897c" stroke-width="0.6"/>
<line x1="239.0" y1="363" x2="243.4" y2="363" stroke="#e8897c" stroke-width="0.6"/>
<line x1="239.0" y1="405" x2="243.4" y2="405" stroke="#e8897c" stroke-width="0.6"/>
<polygon points="239.35,363.52 243.15,363.52 241.25,360.1" fill="#111"/>
<polygon points="236.85,367.02 240.65,367.02 238.75,363.6" fill="#111"/>
<polygon points="242.6,368.52 246.4,368.52 244.5,365.1" fill="#111"/>
<polygon points="239.35,395.27 243.15,395.27 241.25,391.85" fill="#111"/>
<polygon points="236.85,406.52 240.65,406.52 238.75,403.1" fill="#111"/>
<polygon points="241.85,411.52 245.65,411.52 243.75,408.1" fill="#111"/>
<polygon points="252.0,426.8 256.0,426.8 254,430.4" fill="#111"/>
<polygon points="254.2,425.0 258.2,425.0 256.2,428.6" fill="#111"/>
<polygon points="256.4,426.6 260.4,426.6 258.4,430.2" fill="#111"/>
<polygon points="258.6,425.2 262.6,425.2 260.6,428.8" fill="#111"/>
<polygon points="260.6,427.0 264.6,427.0 262.6,430.6" fill="#111"/>
<polygon points="255.4,427.2 259.4,427.2 257.4,430.8" fill="#111"/>
<polygon points="269.4,426.8 273.4,426.8 271.4,430.4" fill="#5e2a20"/>
<polygon points="271.6,425.0 275.6,425.0 273.6,428.6" fill="#5e2a20"/>
<polygon points="273.8,426.6 277.8,426.6 275.8,430.2" fill="#5e2a20"/>
<polygon points="276.0,425.2 280.0,425.2 278,428.8" fill="#5e2a20"/>
<polygon points="278.0,427.0 282.0,427.0 280,430.6" fill="#5e2a20"/>
<polygon points="272.8,427.2 276.8,427.2 274.8,430.8" fill="#5e2a20"/>
<path d="M206.25 346.1V343.8H241.25V346.1" stroke="#3a3a3a" stroke-width="1.1" fill="none" stroke-linejoin="round" stroke-linecap="round"/>
<text x="224.3" y="340.8" font-size="10.8" text-anchor="middle" fill="#222" stroke="#222" stroke-width="0.25">ns</text>
<path d="M206.25 355.3V353H223V355.3" stroke="#3a3a3a" stroke-width="1.1" fill="none" stroke-linejoin="round" stroke-linecap="round"/>
<text x="215" y="355.25" font-size="9.8" text-anchor="middle" fill="#222" font-weight="bold">**</text>
<text x="176.3" y="445" font-size="9.7" text-anchor="start" fill="#222" stroke="#222" stroke-width="0.25">OT1</text>
<text x="176.3" y="457.9" font-size="10" text-anchor="start" fill="#222" stroke="#222" stroke-width="0.25">Treg</text>
<text x="207" y="444.8" font-size="9.5" text-anchor="middle" fill="#222" stroke="#222" stroke-width="0.25">+</text>
<text x="224.3" y="444.8" font-size="9.5" text-anchor="middle" fill="#222" stroke="#222" stroke-width="0.25">+</text>
<text x="241.3" y="444.8" font-size="9.5" text-anchor="middle" fill="#222" stroke="#222" stroke-width="0.25">+</text>
<text x="258.8" y="444.8" font-size="9.5" text-anchor="middle" fill="#222" stroke="#222" stroke-width="0.25">–</text>
<text x="276.2" y="444.8" font-size="9.5" text-anchor="middle" fill="#222" stroke="#222" stroke-width="0.25">–</text>
<text x="207" y="457.9" font-size="8.5" text-anchor="middle" fill="#222" stroke="#222" stroke-width="0.25">–</text>
<text x="225.2" y="457.9" font-size="9.6" text-anchor="middle" fill="#222" stroke="#222" stroke-width="0.25">WT</text>
<text x="243" y="457.9" font-size="9.6" text-anchor="middle" fill="#222" stroke="#222" stroke-width="0.25">SA</text>
<text x="260.6" y="457.9" font-size="9.6" text-anchor="middle" fill="#222" stroke="#222" stroke-width="0.25">WT</text>
<text x="278.2" y="457.9" font-size="9.6" text-anchor="middle" fill="#222" stroke="#222" stroke-width="0.25">SA</text>
<text x="311.3" y="334.2" font-size="16.7" text-anchor="start" fill="#111" font-weight="bold">G</text>
<text x="339.5" y="335.6" font-size="10.2" text-anchor="start" fill="#1a1a1a" stroke="#1a1a1a" stroke-width="0.25">Rag1<tspan dy="-2.4" font-size="7.4">-/-</tspan></text>
<text x="359.3" y="346.7" font-size="10.4" text-anchor="start" fill="#1a1a1a" stroke="#1a1a1a" stroke-width="0.25">MC38-OVA</text>
<g transform="translate(340 350) scale(1.0)"><path d="M24.5 10.8C27.5 11.6 31.5 10.2 32.6 12C33.4 14 29 15.4 25.5 15.8C23.5 16 22 16.3 21 16.6" stroke="#d89a9a" stroke-width="1.15" fill="none" stroke-linecap="round"/><path d="M0.4 7.2C1.2 5.6 3.6 3.6 6.4 2.6C8.2 1.6 9.6 1.6 10.6 2C12.6 0.6 15.4 0 18 0.4C22 1 25.2 4 25.8 7.6C26.2 9.8 25.6 11.4 24.6 12.4L20.4 12.6C19.6 12.2 19.2 11.8 18.2 11.6C15.4 12.2 12.4 12.2 10.4 11.8L9.6 12.6L6.6 12.6C6.8 11.6 6 10.6 4.8 10.2C3 9.8 0.8 8.8 0.4 7.2Z" fill="#fdfdfd" stroke="#c2c2c2" stroke-width="0.7" stroke-linejoin="round"/><path d="M18.5 11.4C21 10.6 22.6 8.4 22.4 5.6C24 7.6 24.2 10.4 23 12.2L20.6 12.3Z" fill="#e3e3e3"/><path d="M7 11.2C9 11.8 13 12 17 11.2L18 11.7C15 12.4 12 12.4 10.4 12L9.6 12.6H7Z" fill="#d9d9d9"/><path d="M2.2 8.4C3.4 9.2 5 9.4 6 10.4" stroke="#dcdcdc" stroke-width="0.7" fill="none"/><ellipse cx="8.7" cy="3.1" rx="1.7" ry="1.5" fill="#f1eeee" stroke="#c2c2c2" stroke-width="0.6"/><circle cx="3.8" cy="6.2" r="0.5" fill="#666"/><path d="M0.6 7.4l-1.6 -0.6M0.7 7.8l-1.5 0.5" stroke="#d0d0d0" stroke-width="0.4"/><path d="M13.2 0.5C14.8 -0.3 17.4 -0.3 19.2 0.7C17.6 1.4 14.8 1.4 13.2 0.5Z" fill="#c8672e"/></g>
<text x="354" y="404" font-size="10" text-anchor="start" fill="#222" transform="rotate(-90 354 404)" stroke="#222" stroke-width="0.25">Tumor</text>
<text x="367.4" y="404" font-size="10.3" text-anchor="start" fill="#222" transform="rotate(-90 367.4 404)" stroke="#222" stroke-width="0.25">implant</text>
<text x="414" y="404" font-size="10.3" text-anchor="start" fill="#222" transform="rotate(-90 414 404)" stroke="#222" stroke-width="0.25">Treg i.v</text>
<text x="428.5" y="404" font-size="10.2" text-anchor="start" fill="#222" transform="rotate(-90 428.5 404)" stroke="#222" stroke-width="0.25">OT1 i.v</text>
<line x1="352.5" y1="407.5" x2="352.5" y2="419.5" stroke="#222" stroke-width="0.9"/>
<polygon points="350.2,417.2 352.5,418.1 354.8,417.2 352.5,421.5" fill="#222"/>
<line x1="352.5" y1="423.6" x2="352.5" y2="432.8" stroke="#2a2a2a" stroke-width="0.9"/>
<line x1="408.4" y1="407.5" x2="408.4" y2="419.5" stroke="#222" stroke-width="0.9"/>
<polygon points="406.1,417.2 408.4,418.1 410.7,417.2 408.4,421.5" fill="#222"/>
<line x1="408.4" y1="423.6" x2="408.4" y2="432.8" stroke="#2a2a2a" stroke-width="0.9"/>
<line x1="422.5" y1="407.5" x2="422.5" y2="419.5" stroke="#222" stroke-width="0.9"/>
<polygon points="420.2,417.2 422.5,418.1 424.8,417.2 422.5,421.5" fill="#222"/>
<line x1="422.5" y1="423.6" x2="422.5" y2="432.8" stroke="#2a2a2a" stroke-width="0.9"/>
<line x1="352.5" y1="428" x2="469" y2="428" stroke="#2a2a2a" stroke-width="0.9"/>
<polygon points="468,426.2 472.3,428 468,429.8" fill="#222"/>
<text x="354" y="446.3" font-size="10.4" text-anchor="middle" fill="#222" stroke="#222" stroke-width="0.25">0</text>
<text x="408" y="446.3" font-size="10.4" text-anchor="middle" fill="#222" stroke="#222" stroke-width="0.25">11</text>
<text x="423" y="446.3" font-size="10.4" text-anchor="middle" fill="#222" stroke="#222" stroke-width="0.25">12</text>
<text x="352.5" y="460" font-size="10.2" text-anchor="start" fill="#222" stroke="#222" stroke-width="0.25">Time (days)</text>
<text x="0" y="500.7" font-size="16.7" text-anchor="start" fill="#111" font-weight="bold">H</text>
<text x="25.8" y="568.5" font-size="11" text-anchor="middle" fill="#222" transform="rotate(-90 25.8 568.5)" stroke="#222" stroke-width="0.25">Tumor volume (mm<tspan dy="-3.6" font-size="7">3</tspan><tspan dy="3.6">)</tspan></text>
<line x1="60" y1="516.4" x2="60" y2="608.8" stroke="#231f20" stroke-width="0.9"/>
<line x1="59.5" y1="608.25" x2="196.3" y2="608.25" stroke="#231f20" stroke-width="0.9"/>
<line x1="56.3" y1="608.25" x2="60" y2="608.25" stroke="#231f20" stroke-width="0.85"/>
<text x="54.8" y="611.25" font-size="8.5" text-anchor="end" fill="#222" stroke="#222" stroke-width="0.25">0</text>
<line x1="56.3" y1="577.85" x2="60" y2="577.85" stroke="#231f20" stroke-width="0.85"/>
<text x="54.8" y="580.85" font-size="8.5" text-anchor="end" fill="#222" stroke="#222" stroke-width="0.25">500</text>
<line x1="56.3" y1="547.45" x2="60" y2="547.45" stroke="#231f20" stroke-width="0.85"/>
<text x="54.8" y="550.45" font-size="8.5" text-anchor="end" fill="#222" stroke="#222" stroke-width="0.25">1,000</text>
<line x1="56.3" y1="517.05" x2="60" y2="517.05" stroke="#231f20" stroke-width="0.85"/>
<text x="54.8" y="520.05" font-size="8.5" text-anchor="end" fill="#222" stroke="#222" stroke-width="0.25">1,500</text>
<line x1="68.75" y1="608.25" x2="68.75" y2="611.45" stroke="#231f20" stroke-width="0.85"/>
<text x="68.75" y="620.6" font-size="8.6" text-anchor="middle" fill="#222" stroke="#222" stroke-width="0.25">7</text>
<line x1="85.75" y1="608.25" x2="85.75" y2="611.45" stroke="#231f20" stroke-width="0.85"/>
<text x="85.75" y="620.6" font-size="8.6" text-anchor="middle" fill="#222" stroke="#222" stroke-width="0.25">10</text>
<line x1="103" y1="608.25" x2="103" y2="611.45" stroke="#231f20" stroke-width="0.85"/>
<text x="103" y="620.6" font-size="8.6" text-anchor="middle" fill="#222" stroke="#222" stroke-width="0.25">12</text>
<line x1="120.5" y1="608.25" x2="120.5" y2="611.45" stroke="#231f20" stroke-width="0.85"/>
<text x="120.5" y="620.6" font-size="8.6" text-anchor="middle" fill="#222" stroke="#222" stroke-width="0.25">13</text>
<line x1="137.5" y1="608.25" x2="137.5" y2="611.45" stroke="#231f20" stroke-width="0.85"/>
<text x="137.5" y="620.6" font-size="8.6" text-anchor="middle" fill="#222" stroke="#222" stroke-width="0.25">15</text>
<line x1="154.25" y1="608.25" x2="154.25" y2="611.45" stroke="#231f20" stroke-width="0.85"/>
<text x="154.25" y="620.6" font-size="8.6" text-anchor="middle" fill="#222" stroke="#222" stroke-width="0.25">17</text>
<line x1="171.25" y1="608.25" x2="171.25" y2="611.45" stroke="#231f20" stroke-width="0.85"/>
<text x="171.25" y="620.6" font-size="8.6" text-anchor="middle" fill="#222" stroke="#222" stroke-width="0.25">19</text>
<line x1="188" y1="608.25" x2="188" y2="611.45" stroke="#231f20" stroke-width="0.85"/>
<text x="188" y="620.6" font-size="8.6" text-anchor="middle" fill="#222" stroke="#222" stroke-width="0.25">20</text>
<text x="67.5" y="634" font-size="10.1" text-anchor="start" fill="#222" stroke="#222" stroke-width="0.25">Days post tumor inoculation</text>
<line x1="188" y1="533.75" x2="188" y2="550.75" stroke="#aaaaaa" stroke-width="0.8"/>
<line x1="185.6" y1="533.75" x2="190.4" y2="533.75" stroke="#aaaaaa" stroke-width="0.8"/>
<line x1="171.25" y1="552" x2="171.25" y2="565" stroke="#aaaaaa" stroke-width="0.8"/>
<line x1="168.85" y1="552" x2="173.65" y2="552" stroke="#aaaaaa" stroke-width="0.8"/>
<line x1="154.25" y1="577" x2="154.25" y2="585" stroke="#aaaaaa" stroke-width="0.8"/>
<line x1="151.85" y1="577" x2="156.65" y2="577" stroke="#aaaaaa" stroke-width="0.8"/>
<line x1="137.5" y1="581" x2="137.5" y2="589.25" stroke="#aaaaaa" stroke-width="0.8"/>
<line x1="135.1" y1="581" x2="139.9" y2="581" stroke="#aaaaaa" stroke-width="0.8"/>
<line x1="120.5" y1="592" x2="120.5" y2="596.25" stroke="#aaaaaa" stroke-width="0.8"/>
<line x1="118.1" y1="592" x2="122.9" y2="592" stroke="#aaaaaa" stroke-width="0.8"/>
<line x1="137.5" y1="577.5" x2="137.5" y2="587.5" stroke="#333" stroke-width="0.8"/>
<line x1="135.1" y1="577.5" x2="139.9" y2="577.5" stroke="#333" stroke-width="0.8"/>
<line x1="154.25" y1="565.5" x2="154.25" y2="576.75" stroke="#333" stroke-width="0.8"/>
<line x1="151.85" y1="565.5" x2="156.65" y2="565.5" stroke="#333" stroke-width="0.8"/>
<line x1="171.25" y1="548" x2="171.25" y2="561.25" stroke="#333" stroke-width="0.8"/>
<line x1="168.85" y1="548" x2="173.65" y2="548" stroke="#333" stroke-width="0.8"/>
<line x1="188" y1="581.25" x2="188" y2="593.25" stroke="#e9a07c" stroke-width="0.8"/>
<line x1="185.6" y1="581.25" x2="190.4" y2="581.25" stroke="#e9a07c" stroke-width="0.8"/>
<line x1="171.25" y1="585" x2="171.25" y2="596.25" stroke="#e9a07c" stroke-width="0.8"/>
<line x1="168.85" y1="585" x2="173.65" y2="585" stroke="#e9a07c" stroke-width="0.8"/>
<line x1="120.5" y1="589.25" x2="120.5" y2="596.25" stroke="#2f6fb5" stroke-width="0.8"/>
<line x1="118.1" y1="589.25" x2="122.9" y2="589.25" stroke="#2f6fb5" stroke-width="0.8"/>
<line x1="137.5" y1="593.75" x2="137.5" y2="598.75" stroke="#2f6fb5" stroke-width="0.8"/>
<line x1="135.1" y1="593.75" x2="139.9" y2="593.75" stroke="#2f6fb5" stroke-width="0.8"/>
<line x1="154.25" y1="591.75" x2="154.25" y2="598" stroke="#2f6fb5" stroke-width="0.8"/>
<line x1="151.85" y1="591.75" x2="156.65" y2="591.75" stroke="#2f6fb5" stroke-width="0.8"/>
<line x1="171.25" y1="586.25" x2="171.25" y2="594.25" stroke="#2f6fb5" stroke-width="0.8"/>
<line x1="168.85" y1="586.25" x2="173.65" y2="586.25" stroke="#2f6fb5" stroke-width="0.8"/>
<line x1="188" y1="587.5" x2="188" y2="593" stroke="#2f6fb5" stroke-width="0.8"/>
<line x1="185.6" y1="587.5" x2="190.4" y2="587.5" stroke="#2f6fb5" stroke-width="0.8"/>
<path d="M68.75 608 L85.75 607.3 L103 604.5 L120.5 602.5 L137.5 602.5 L154.25 601.25 L171.25 596.25 L188 593.25" stroke="#d8402f" stroke-width="1.5" fill="none" stroke-linejoin="round"/>
<polygon points="67.15,609.28 70.35,609.28 68.75,606.4" fill="#d8402f"/>
<polygon points="84.15,608.58 87.35,608.58 85.75,605.7" fill="#d8402f"/>
<polygon points="101.4,605.78 104.6,605.78 103,602.9" fill="#d8402f"/>
<polygon points="118.9,603.78 122.1,603.78 120.5,600.9" fill="#d8402f"/>
<polygon points="135.9,603.78 139.1,603.78 137.5,600.9" fill="#d8402f"/>
<polygon points="152.65,602.53 155.85,602.53 154.25,599.65" fill="#d8402f"/>
<polygon points="169.65,597.53 172.85,597.53 171.25,594.65" fill="#d8402f"/>
<polygon points="186.4,594.53 189.6,594.53 188,591.65" fill="#d8402f"/>
<path d="M68.75 608 L85.75 607 L103 604 L120.5 596.25 L137.5 598.75 L154.25 598 L171.25 594.25 L188 593" stroke="#2f6fb5" stroke-width="1.6" fill="none" stroke-linejoin="round"/>
<rect x="66.95" y="606.2" width="3.6" height="3.6" fill="#2f6fb5"/>
<rect x="83.95" y="605.2" width="3.6" height="3.6" fill="#2f6fb5"/>
<rect x="101.2" y="602.2" width="3.6" height="3.6" fill="#2f6fb5"/>
<rect x="118.7" y="594.45" width="3.6" height="3.6" fill="#2f6fb5"/>
<rect x="135.7" y="596.95" width="3.6" height="3.6" fill="#2f6fb5"/>
<rect x="152.45" y="596.2" width="3.6" height="3.6" fill="#2f6fb5"/>
<rect x="169.45" y="592.45" width="3.6" height="3.6" fill="#2f6fb5"/>
<rect x="186.2" y="591.2" width="3.6" height="3.6" fill="#2f6fb5"/>
<path d="M68.75 608 L85.75 606.8 L103 603.25 L120.5 597.5 L137.5 587.5 L154.25 576.75 L171.25 561.25 L188 548.75" stroke="#111" stroke-width="1.6" fill="none" stroke-linejoin="round"/>
<polygon points="67.15,606.72 70.35,606.72 68.75,609.6" fill="#111"/>
<polygon points="84.15,605.52 87.35,605.52 85.75,608.4" fill="#111"/>
<polygon points="101.4,601.97 104.6,601.97 103,604.85" fill="#111"/>
<polygon points="118.9,596.22 122.1,596.22 120.5,599.1" fill="#111"/>
<polygon points="135.9,586.22 139.1,586.22 137.5,589.1" fill="#111"/>
<polygon points="152.65,575.47 155.85,575.47 154.25,578.35" fill="#111"/>
<polygon points="169.65,559.97 172.85,559.97 171.25,562.85" fill="#111"/>
<polygon points="186.4,547.47 189.6,547.47 188,550.35" fill="#111"/>
<path d="M68.75 608 L85.75 607 L103 603 L120.5 596.25 L137.5 589.25 L154.25 585 L171.25 565 L188 550.75" stroke="#8c8c8c" stroke-width="1.2" fill="none" stroke-linejoin="round" stroke-dasharray="3.2 1.3"/>
<circle cx="68.75" cy="608" r="1.7" fill="#a2a2a2" stroke="none" stroke-width="0"/>
<circle cx="85.75" cy="607" r="1.7" fill="#a2a2a2" stroke="none" stroke-width="0"/>
<circle cx="103" cy="603" r="1.7" fill="#a2a2a2" stroke="none" stroke-width="0"/>
<circle cx="120.5" cy="596.25" r="1.7" fill="#a2a2a2" stroke="none" stroke-width="0"/>
<circle cx="137.5" cy="589.25" r="1.7" fill="#a2a2a2" stroke="none" stroke-width="0"/>
<circle cx="154.25" cy="585" r="1.7" fill="#a2a2a2" stroke="none" stroke-width="0"/>
<circle cx="171.25" cy="565" r="1.7" fill="#a2a2a2" stroke="none" stroke-width="0"/>
<circle cx="188" cy="550.75" r="1.7" fill="#a2a2a2" stroke="none" stroke-width="0"/>
<line x1="71.25" y1="520" x2="81.25" y2="520" stroke="#9a9a9a" stroke-width="1.1"/>
<circle cx="76.25" cy="520" r="1.9" fill="#9a9a9a" stroke="none" stroke-width="0"/>
<text x="87.5" y="523.5" font-size="10.2" text-anchor="start" fill="#222" stroke="#222" stroke-width="0.25">PBS</text>
<line x1="71.25" y1="532.5" x2="81.25" y2="532.5" stroke="#2f6fb5" stroke-width="1.1"/>
<rect x="74.55" y="530.8" width="3.4" height="3.4" fill="#2f6fb5"/>
<text x="87.5" y="536.0" font-size="10.2" text-anchor="start" fill="#222" stroke="#222" stroke-width="0.25">OT-I</text>
<line x1="71.25" y1="545" x2="81.25" y2="545" stroke="#111" stroke-width="1.1"/>
<polygon points="74.65,543.72 77.85,543.72 76.25,546.6" fill="#111"/>
<text x="87.5" y="548.5" font-size="10.2" text-anchor="start" fill="#222" stroke="#222" stroke-width="0.25">WT Treg+ OT-I</text>
<line x1="71.25" y1="556.4" x2="81.25" y2="556.4" stroke="#d8402f" stroke-width="1.1"/>
<polygon points="74.65,557.68 77.85,557.68 76.25,554.8" fill="#d8402f"/>
<text x="87.5" y="559.9" font-size="10.2" text-anchor="start" fill="#222" stroke="#222" stroke-width="0.25">SA Treg+ OT-I</text>
<path d="M193.8 548.8H196.3V592.5H193.8" stroke="#231f20" stroke-width="1.05" fill="none"/>
<text x="208.3" y="575.25" font-size="9.8" text-anchor="middle" fill="#222" font-weight="bold">****</text>
<text x="244.3" y="500.4" font-size="16.7" text-anchor="start" fill="#111" font-weight="bold">I</text>
<text x="253.5" y="564.4" font-size="10.2" text-anchor="middle" fill="#222" transform="rotate(-90 253.5 564.4)" stroke="#222" stroke-width="0.25">Tumor weight (mg)</text>
<line x1="288.75" y1="515.7" x2="288.75" y2="609.3" stroke="#231f20" stroke-width="0.9"/>
<line x1="288.25" y1="608.75" x2="381.8" y2="608.75" stroke="#231f20" stroke-width="0.9"/>
<line x1="285.05" y1="608.75" x2="288.75" y2="608.75" stroke="#231f20" stroke-width="0.85"/>
<text x="284.15" y="611.75" font-size="8.5" text-anchor="end" fill="#222" stroke="#222" stroke-width="0.25">0</text>
<line x1="285.05" y1="585.62" x2="288.75" y2="585.62" stroke="#231f20" stroke-width="0.85"/>
<text x="284.15" y="588.62" font-size="8.5" text-anchor="end" fill="#222" stroke="#222" stroke-width="0.25">500</text>
<line x1="285.05" y1="562.5" x2="288.75" y2="562.5" stroke="#231f20" stroke-width="0.85"/>
<text x="284.15" y="565.5" font-size="8.5" text-anchor="end" fill="#222" stroke="#222" stroke-width="0.25">1,000</text>
<line x1="285.05" y1="539.38" x2="288.75" y2="539.38" stroke="#231f20" stroke-width="0.85"/>
<text x="284.15" y="542.38" font-size="8.5" text-anchor="end" fill="#222" stroke="#222" stroke-width="0.25">1,500</text>
<line x1="285.05" y1="516.25" x2="288.75" y2="516.25" stroke="#231f20" stroke-width="0.85"/>
<text x="284.15" y="519.25" font-size="8.5" text-anchor="end" fill="#222" stroke="#222" stroke-width="0.25">2,000</text>
<path d="M296.75 608.75V550.75H310.95V608.75" stroke="#9a9aa2" stroke-width="1.25" fill="none"/>
<line x1="303.85" y1="608.75" x2="303.85" y2="611.95" stroke="#231f20" stroke-width="0.85"/>
<path d="M317.75 608.75V592H331.95V608.75" stroke="#2f6fb5" stroke-width="1.25" fill="none"/>
<line x1="324.85" y1="608.75" x2="324.85" y2="611.95" stroke="#231f20" stroke-width="0.85"/>
<path d="M339.25 608.75V562.5H353.45V608.75" stroke="#111" stroke-width="1.25" fill="none"/>
<line x1="346.35" y1="608.75" x2="346.35" y2="611.95" stroke="#231f20" stroke-width="0.85"/>
<path d="M360.5 608.75V592.5H374.7V608.75" stroke="#e2572c" stroke-width="1.25" fill="none"/>
<line x1="367.6" y1="608.75" x2="367.6" y2="611.95" stroke="#231f20" stroke-width="0.85"/>
<line x1="303.6" y1="537.5" x2="303.6" y2="563.5" stroke="#9a9aa2" stroke-width="0.8"/>
<line x1="301.0" y1="537.5" x2="306.2" y2="537.5" stroke="#9a9aa2" stroke-width="0.8"/>
<line x1="301.0" y1="563.5" x2="306.2" y2="563.5" stroke="#9a9aa2" stroke-width="0.8"/>
<circle cx="303.25" cy="540" r="1.9" fill="#111" stroke="#777" stroke-width="0.5"/>
<circle cx="303.25" cy="548.75" r="1.9" fill="#111" stroke="#777" stroke-width="0.5"/>
<circle cx="303.25" cy="564.5" r="1.9" fill="#111" stroke="#777" stroke-width="0.5"/>
<line x1="324.9" y1="588.8" x2="324.9" y2="597.5" stroke="#2f6fb5" stroke-width="0.8"/>
<line x1="322.3" y1="588.8" x2="327.5" y2="588.8" stroke="#2f6fb5" stroke-width="0.8"/>
<line x1="322.3" y1="597.5" x2="327.5" y2="597.5" stroke="#2f6fb5" stroke-width="0.8"/>
<rect x="319.35" y="583.85" width="3.8" height="3.8" fill="#111"/>
<rect x="326.35" y="583.85" width="3.8" height="3.8" fill="#111"/>
<rect x="323.6" y="593.1" width="3.8" height="3.8" fill="#111"/>
<rect x="322.6" y="598.85" width="3.8" height="3.8" fill="#111"/>
<line x1="346.4" y1="548" x2="346.4" y2="576.3" stroke="#111" stroke-width="0.8"/>
<line x1="343.8" y1="548" x2="349.0" y2="548" stroke="#111" stroke-width="0.8"/>
<line x1="343.8" y1="576.3" x2="349.0" y2="576.3" stroke="#111" stroke-width="0.8"/>
<polygon points="343.0,551.6 347.0,551.6 345,548.0" fill="#111"/>
<polygon points="349.25,549.6 353.25,549.6 351.25,546.0" fill="#111"/>
<polygon points="344.75,558.6 348.75,558.6 346.75,555.0" fill="#111"/>
<polygon points="341.75,570.35 345.75,570.35 343.75,566.75" fill="#111"/>
<polygon points="346.75,572.85 350.75,572.85 348.75,569.25" fill="#111"/>
<polygon points="344.25,586.1 348.25,586.1 346.25,582.5" fill="#111"/>
<line x1="367.6" y1="578.8" x2="367.6" y2="606.2" stroke="#e2572c" stroke-width="0.8"/>
<line x1="364.0" y1="578.8" x2="371.2" y2="578.8" stroke="#e2572c" stroke-width="0.8"/>
<line x1="364.0" y1="606.2" x2="371.2" y2="606.2" stroke="#e2572c" stroke-width="0.8"/>
<polygon points="365.6,565.23 369.4,565.23 367.5,568.65" fill="#111"/>
<polygon points="363.1,590.48 366.9,590.48 365,593.9" fill="#111"/>
<polygon points="368.85,593.48 372.65,593.48 370.75,596.9" fill="#111"/>
<polygon points="360.6,593.98 364.4,593.98 362.5,597.4" fill="#111"/>
<polygon points="366.1,598.48 369.9,598.48 368,601.9" fill="#111"/>
<polygon points="371.1,599.73 374.9,599.73 373,603.15" fill="#111"/>
<polygon points="363.85,603.98 367.65,603.98 365.75,607.4" fill="#111"/>
<polygon points="369.35,603.98 373.15,603.98 371.25,607.4" fill="#111"/>
<path d="M303.25 525.5V523.3H345.75V525.5" stroke="#3a3a3a" stroke-width="1.1" fill="none" stroke-linejoin="round" stroke-linecap="round"/>
<text x="324.3" y="519.6" font-size="10.8" text-anchor="middle" fill="#222" stroke="#222" stroke-width="0.25">ns</text>
<path d="M303.25 532.7V530.5H323.75V532.7" stroke="#3a3a3a" stroke-width="1.1" fill="none" stroke-linejoin="round" stroke-linecap="round"/>
<text x="313.8" y="533.05" font-size="9.8" text-anchor="middle" fill="#222" font-weight="bold">**</text>
<path d="M346.25 544.2V542H367.5V544.2" stroke="#3a3a3a" stroke-width="1.1" fill="none" stroke-linejoin="round" stroke-linecap="round"/>
<text x="356.8" y="542.65" font-size="9.8" text-anchor="middle" fill="#222" font-weight="bold">**</text>
<text x="271.7" y="623.8" font-size="9.8" text-anchor="start" fill="#222" stroke="#222" stroke-width="0.25">OT-I</text>
<text x="271.7" y="637" font-size="10" text-anchor="start" fill="#222" stroke="#222" stroke-width="0.25">Treg</text>
<text x="305" y="623.5" font-size="8.5" text-anchor="middle" fill="#222" stroke="#222" stroke-width="0.25">–</text>
<text x="325.5" y="623.5" font-size="9" text-anchor="middle" fill="#222" stroke="#222" stroke-width="0.25">+</text>
<text x="346.3" y="623.5" font-size="9" text-anchor="middle" fill="#222" stroke="#222" stroke-width="0.25">+</text>
<text x="367.5" y="623.5" font-size="9" text-anchor="middle" fill="#222" stroke="#222" stroke-width="0.25">+</text>
<text x="305" y="637" font-size="8.5" text-anchor="middle" fill="#222" stroke="#222" stroke-width="0.25">–</text>
<text x="325.5" y="637" font-size="8.5" text-anchor="middle" fill="#222" stroke="#222" stroke-width="0.25">–</text>
<text x="347.2" y="637" font-size="9.9" text-anchor="middle" fill="#222" stroke="#222" stroke-width="0.25">WT</text>
<text x="369.5" y="637" font-size="9.9" text-anchor="middle" fill="#222" stroke="#222" stroke-width="0.25">SA</text>
<text x="411.7" y="501" font-size="16.7" text-anchor="start" fill="#111" font-weight="bold">J</text>
<text x="439.7" y="514" font-size="10.1" text-anchor="start" fill="#1a1a1a" stroke="#1a1a1a" stroke-width="0.25">WT mice</text>
<text x="465.8" y="527.7" font-size="10.3" text-anchor="start" fill="#1a1a1a" stroke="#1a1a1a" stroke-width="0.25">MC38</text>
<g transform="translate(430.6 518.8) scale(1.0)"><path d="M24.5 10.8C27.5 11.6 31.5 10.2 32.6 12C33.4 14 29 15.4 25.5 15.8C23.5 16 22 16.3 21 16.6" stroke="#d89a9a" stroke-width="1.15" fill="none" stroke-linecap="round"/><path d="M0.4 7.2C1.2 5.6 3.6 3.6 6.4 2.6C8.2 1.6 9.6 1.6 10.6 2C12.6 0.6 15.4 0 18 0.4C22 1 25.2 4 25.8 7.6C26.2 9.8 25.6 11.4 24.6 12.4L20.4 12.6C19.6 12.2 19.2 11.8 18.2 11.6C15.4 12.2 12.4 12.2 10.4 11.8L9.6 12.6L6.6 12.6C6.8 11.6 6 10.6 4.8 10.2C3 9.8 0.8 8.8 0.4 7.2Z" fill="#fdfdfd" stroke="#c2c2c2" stroke-width="0.7" stroke-linejoin="round"/><path d="M18.5 11.4C21 10.6 22.6 8.4 22.4 5.6C24 7.6 24.2 10.4 23 12.2L20.6 12.3Z" fill="#e3e3e3"/><path d="M7 11.2C9 11.8 13 12 17 11.2L18 11.7C15 12.4 12 12.4 10.4 12L9.6 12.6H7Z" fill="#d9d9d9"/><path d="M2.2 8.4C3.4 9.2 5 9.4 6 10.4" stroke="#dcdcdc" stroke-width="0.7" fill="none"/><ellipse cx="8.7" cy="3.1" rx="1.7" ry="1.5" fill="#f1eeee" stroke="#c2c2c2" stroke-width="0.6"/><circle cx="3.8" cy="6.2" r="0.5" fill="#666"/><path d="M0.6 7.4l-1.6 -0.6M0.7 7.8l-1.5 0.5" stroke="#d0d0d0" stroke-width="0.4"/><path d="M13.2 0.5C14.8 -0.3 17.4 -0.3 19.2 0.7C17.6 1.4 14.8 1.4 13.2 0.5Z" fill="#7a3a28"/></g>
<text x="443.4" y="584.6" font-size="10.1" text-anchor="start" fill="#222" transform="rotate(-90 443.4 584.6)" stroke="#222" stroke-width="0.25">Treg i.v</text>
<text x="457.1" y="584.6" font-size="10.1" text-anchor="start" fill="#222" transform="rotate(-90 457.1 584.6)" stroke="#222" stroke-width="0.25">Tumor s.c</text>
<line x1="439.7" y1="591.2" x2="439.7" y2="602" stroke="#222" stroke-width="0.9"/>
<polygon points="437.4,599.7 439.7,600.6 442.0,599.7 439.7,604" fill="#222"/>
<line x1="439.7" y1="606.9" x2="439.7" y2="616" stroke="#2a2a2a" stroke-width="0.9"/>
<line x1="453.5" y1="591.2" x2="453.5" y2="602" stroke="#222" stroke-width="0.9"/>
<polygon points="451.2,599.7 453.5,600.6 455.8,599.7 453.5,604" fill="#222"/>
<line x1="453.5" y1="606.9" x2="453.5" y2="616" stroke="#2a2a2a" stroke-width="0.9"/>
<line x1="439.7" y1="611.5" x2="481" y2="611.5" stroke="#2a2a2a" stroke-width="0.9"/>
<polygon points="480,609.7 484.3,611.5 480,613.3" fill="#222"/>
<text x="441.2" y="630" font-size="10.2" text-anchor="middle" fill="#222" stroke="#222" stroke-width="0.25">−1</text>
<text x="453.6" y="630" font-size="10.2" text-anchor="middle" fill="#222" stroke="#222" stroke-width="0.25">0</text>
<text x="437.4" y="641" font-size="10.2" text-anchor="start" fill="#222" stroke="#222" stroke-width="0.25">Time (days)</text>
<text x="0" y="660.6" font-size="16.7" text-anchor="start" fill="#111" font-weight="bold">K</text>
<text x="27.5" y="719.4" font-size="11.1" text-anchor="middle" fill="#222" transform="rotate(-90 27.5 719.4)" stroke="#222" stroke-width="0.25">Tumor volume (mm<tspan dy="-3.6" font-size="7">3</tspan><tspan dy="3.6">)</tspan></text>
<line x1="60" y1="666.9" x2="60" y2="761.05" stroke="#231f20" stroke-width="0.9"/>
<line x1="59.5" y1="760.5" x2="199.5" y2="760.5" stroke="#231f20" stroke-width="0.9"/>
<line x1="56.3" y1="760.5" x2="60" y2="760.5" stroke="#231f20" stroke-width="0.85"/>
<text x="54.8" y="763.5" font-size="8.5" text-anchor="end" fill="#222" stroke="#222" stroke-width="0.25">0</text>
<line x1="56.3" y1="729.5" x2="60" y2="729.5" stroke="#231f20" stroke-width="0.85"/>
<text x="54.8" y="732.5" font-size="8.5" text-anchor="end" fill="#222" stroke="#222" stroke-width="0.25">400</text>
<line x1="56.3" y1="698.5" x2="60" y2="698.5" stroke="#231f20" stroke-width="0.85"/>
<text x="54.8" y="701.5" font-size="8.5" text-anchor="end" fill="#222" stroke="#222" stroke-width="0.25">800</text>
<line x1="56.3" y1="667.5" x2="60" y2="667.5" stroke="#231f20" stroke-width="0.85"/>
<text x="54.8" y="670.5" font-size="8.5" text-anchor="end" fill="#222" stroke="#222" stroke-width="0.25">1,200</text>
<line x1="67.5" y1="760.5" x2="67.5" y2="763.7" stroke="#231f20" stroke-width="0.85"/>
<text x="67.5" y="773.2" font-size="8.6" text-anchor="middle" fill="#222" stroke="#222" stroke-width="0.25">6</text>
<line x1="83.25" y1="760.5" x2="83.25" y2="763.7" stroke="#231f20" stroke-width="0.85"/>
<text x="83.25" y="773.2" font-size="8.6" text-anchor="middle" fill="#222" stroke="#222" stroke-width="0.25">8</text>
<line x1="98.75" y1="760.5" x2="98.75" y2="763.7" stroke="#231f20" stroke-width="0.85"/>
<text x="98.75" y="773.2" font-size="8.6" text-anchor="middle" fill="#222" stroke="#222" stroke-width="0.25">10</text>
<line x1="114.25" y1="760.5" x2="114.25" y2="763.7" stroke="#231f20" stroke-width="0.85"/>
<text x="114.25" y="773.2" font-size="8.6" text-anchor="middle" fill="#222" stroke="#222" stroke-width="0.25">12</text>
<line x1="129.5" y1="760.5" x2="129.5" y2="763.7" stroke="#231f20" stroke-width="0.85"/>
<text x="129.5" y="773.2" font-size="8.6" text-anchor="middle" fill="#222" stroke="#222" stroke-width="0.25">14</text>
<line x1="145" y1="760.5" x2="145" y2="763.7" stroke="#231f20" stroke-width="0.85"/>
<text x="145" y="773.2" font-size="8.6" text-anchor="middle" fill="#222" stroke="#222" stroke-width="0.25">16</text>
<line x1="160.5" y1="760.5" x2="160.5" y2="763.7" stroke="#231f20" stroke-width="0.85"/>
<text x="160.5" y="773.2" font-size="8.6" text-anchor="middle" fill="#222" stroke="#222" stroke-width="0.25">18</text>
<line x1="176.25" y1="760.5" x2="176.25" y2="763.7" stroke="#231f20" stroke-width="0.85"/>
<text x="176.25" y="773.2" font-size="8.6" text-anchor="middle" fill="#222" stroke="#222" stroke-width="0.25">20</text>
<line x1="191.75" y1="760.5" x2="191.75" y2="763.7" stroke="#231f20" stroke-width="0.85"/>
<text x="191.75" y="773.2" font-size="8.6" text-anchor="middle" fill="#222" stroke="#222" stroke-width="0.25">21</text>
<text x="67.5" y="785.6" font-size="10.1" text-anchor="start" fill="#222" stroke="#222" stroke-width="0.25">Days post tumor inoculation</text>
<path d="M67.5 756.9 L83.25 756.25 L98.75 754.25 L114.25 754.25 L129.5 754.25 L145 749.5 L160.5 746.25 L176.25 736.75 L191.75 728.75" stroke="#9aa0a3" stroke-width="1.25" fill="none" stroke-linejoin="round"/>
<line x1="67.5" y1="755.5" x2="67.5" y2="756.9" stroke="#9aa0a3" stroke-width="0.9"/>
<line x1="65.2" y1="755.5" x2="69.8" y2="755.5" stroke="#9aa0a3" stroke-width="0.9"/>
<circle cx="67.5" cy="756.9" r="1.8" fill="#9aa0a3" stroke="none" stroke-width="0"/>
<line x1="83.25" y1="754.5" x2="83.25" y2="756.25" stroke="#9aa0a3" stroke-width="0.9"/>
<line x1="80.95" y1="754.5" x2="85.55" y2="754.5" stroke="#9aa0a3" stroke-width="0.9"/>
<circle cx="83.25" cy="756.25" r="1.8" fill="#9aa0a3" stroke="none" stroke-width="0"/>
<line x1="98.75" y1="751.5" x2="98.75" y2="754.25" stroke="#9aa0a3" stroke-width="0.9"/>
<line x1="96.45" y1="751.5" x2="101.05" y2="751.5" stroke="#9aa0a3" stroke-width="0.9"/>
<circle cx="98.75" cy="754.25" r="1.8" fill="#9aa0a3" stroke="none" stroke-width="0"/>
<line x1="114.25" y1="752.5" x2="114.25" y2="754.25" stroke="#9aa0a3" stroke-width="0.9"/>
<line x1="111.95" y1="752.5" x2="116.55" y2="752.5" stroke="#9aa0a3" stroke-width="0.9"/>
<circle cx="114.25" cy="754.25" r="1.8" fill="#9aa0a3" stroke="none" stroke-width="0"/>
<line x1="129.5" y1="752.5" x2="129.5" y2="754.25" stroke="#9aa0a3" stroke-width="0.9"/>
<line x1="127.2" y1="752.5" x2="131.8" y2="752.5" stroke="#9aa0a3" stroke-width="0.9"/>
<circle cx="129.5" cy="754.25" r="1.8" fill="#9aa0a3" stroke="none" stroke-width="0"/>
<line x1="145" y1="747.5" x2="145" y2="749.5" stroke="#9aa0a3" stroke-width="0.9"/>
<line x1="142.7" y1="747.5" x2="147.3" y2="747.5" stroke="#9aa0a3" stroke-width="0.9"/>
<circle cx="145" cy="749.5" r="1.8" fill="#9aa0a3" stroke="none" stroke-width="0"/>
<line x1="160.5" y1="743" x2="160.5" y2="746.25" stroke="#9aa0a3" stroke-width="0.9"/>
<line x1="158.2" y1="743" x2="162.8" y2="743" stroke="#9aa0a3" stroke-width="0.9"/>
<circle cx="160.5" cy="746.25" r="1.8" fill="#9aa0a3" stroke="none" stroke-width="0"/>
<line x1="176.25" y1="735" x2="176.25" y2="736.75" stroke="#9aa0a3" stroke-width="0.9"/>
<line x1="173.95" y1="735" x2="178.55" y2="735" stroke="#9aa0a3" stroke-width="0.9"/>
<circle cx="176.25" cy="736.75" r="1.8" fill="#9aa0a3" stroke="none" stroke-width="0"/>
<line x1="191.75" y1="723.75" x2="191.75" y2="728.75" stroke="#9aa0a3" stroke-width="0.9"/>
<line x1="189.45" y1="723.75" x2="194.05" y2="723.75" stroke="#9aa0a3" stroke-width="0.9"/>
<circle cx="191.75" cy="728.75" r="1.8" fill="#9aa0a3" stroke="none" stroke-width="0"/>
<path d="M67.5 759.5 L83.25 759.5 L98.75 759.5 L114.25 759.25 L129.5 758.75 L145 755 L160.5 750.5 L176.25 743.75 L191.75 739.25" stroke="#e03a2f" stroke-width="1.25" fill="none" stroke-linejoin="round"/>
<line x1="67.5" y1="758.8" x2="67.5" y2="759.5" stroke="#e03a2f" stroke-width="0.9"/>
<line x1="65.2" y1="758.8" x2="69.8" y2="758.8" stroke="#e03a2f" stroke-width="0.9"/>
<polygon points="65.8,760.86 69.2,760.86 67.5,757.8" fill="#e03a2f"/>
<line x1="83.25" y1="758.8" x2="83.25" y2="759.5" stroke="#e03a2f" stroke-width="0.9"/>
<line x1="80.95" y1="758.8" x2="85.55" y2="758.8" stroke="#e03a2f" stroke-width="0.9"/>
<polygon points="81.55,760.86 84.95,760.86 83.25,757.8" fill="#e03a2f"/>
<line x1="98.75" y1="758.8" x2="98.75" y2="759.5" stroke="#e03a2f" stroke-width="0.9"/>
<line x1="96.45" y1="758.8" x2="101.05" y2="758.8" stroke="#e03a2f" stroke-width="0.9"/>
<polygon points="97.05,760.86 100.45,760.86 98.75,757.8" fill="#e03a2f"/>
<line x1="114.25" y1="758.4" x2="114.25" y2="759.25" stroke="#e03a2f" stroke-width="0.9"/>
<line x1="111.95" y1="758.4" x2="116.55" y2="758.4" stroke="#e03a2f" stroke-width="0.9"/>
<polygon points="112.55,760.61 115.95,760.61 114.25,757.55" fill="#e03a2f"/>
<line x1="129.5" y1="757.6" x2="129.5" y2="758.75" stroke="#e03a2f" stroke-width="0.9"/>
<line x1="127.2" y1="757.6" x2="131.8" y2="757.6" stroke="#e03a2f" stroke-width="0.9"/>
<polygon points="127.8,760.11 131.2,760.11 129.5,757.05" fill="#e03a2f"/>
<line x1="145" y1="753.6" x2="145" y2="755" stroke="#e03a2f" stroke-width="0.9"/>
<line x1="142.7" y1="753.6" x2="147.3" y2="753.6" stroke="#e03a2f" stroke-width="0.9"/>
<polygon points="143.3,756.36 146.7,756.36 145,753.3" fill="#e03a2f"/>
<line x1="160.5" y1="748.5" x2="160.5" y2="750.5" stroke="#e03a2f" stroke-width="0.9"/>
<line x1="158.2" y1="748.5" x2="162.8" y2="748.5" stroke="#e03a2f" stroke-width="0.9"/>
<polygon points="158.8,751.86 162.2,751.86 160.5,748.8" fill="#e03a2f"/>
<line x1="176.25" y1="741.75" x2="176.25" y2="743.75" stroke="#e03a2f" stroke-width="0.9"/>
<line x1="173.95" y1="741.75" x2="178.55" y2="741.75" stroke="#e03a2f" stroke-width="0.9"/>
<polygon points="174.55,745.11 177.95,745.11 176.25,742.05" fill="#e03a2f"/>
<line x1="191.75" y1="736.25" x2="191.75" y2="739.25" stroke="#e03a2f" stroke-width="0.9"/>
<line x1="189.45" y1="736.25" x2="194.05" y2="736.25" stroke="#e03a2f" stroke-width="0.9"/>
<polygon points="190.05,740.61 193.45,740.61 191.75,737.55" fill="#e03a2f"/>
<path d="M67.5 756.75 L83.25 757 L98.75 756.75 L114.25 749.5 L129.5 744.25 L145 736.25 L160.5 725 L176.25 702.5 L191.75 698" stroke="#111" stroke-width="1.25" fill="none" stroke-linejoin="round"/>
<line x1="67.5" y1="755.5" x2="67.5" y2="756.75" stroke="#111" stroke-width="0.9"/>
<line x1="65.2" y1="755.5" x2="69.8" y2="755.5" stroke="#111" stroke-width="0.9"/>
<rect x="65.6" y="754.85" width="3.8" height="3.8" fill="#111"/>
<line x1="83.25" y1="755.5" x2="83.25" y2="757" stroke="#111" stroke-width="0.9"/>
<line x1="80.95" y1="755.5" x2="85.55" y2="755.5" stroke="#111" stroke-width="0.9"/>
<rect x="81.35" y="755.1" width="3.8" height="3.8" fill="#111"/>
<line x1="98.75" y1="754" x2="98.75" y2="756.75" stroke="#111" stroke-width="0.9"/>
<line x1="96.45" y1="754" x2="101.05" y2="754" stroke="#111" stroke-width="0.9"/>
<rect x="96.85" y="754.85" width="3.8" height="3.8" fill="#111"/>
<line x1="114.25" y1="745.5" x2="114.25" y2="749.5" stroke="#111" stroke-width="0.9"/>
<line x1="111.95" y1="745.5" x2="116.55" y2="745.5" stroke="#111" stroke-width="0.9"/>
<rect x="112.35" y="747.6" width="3.8" height="3.8" fill="#111"/>
<line x1="129.5" y1="739.5" x2="129.5" y2="744.25" stroke="#111" stroke-width="0.9"/>
<line x1="127.2" y1="739.5" x2="131.8" y2="739.5" stroke="#111" stroke-width="0.9"/>
<rect x="127.6" y="742.35" width="3.8" height="3.8" fill="#111"/>
<line x1="145" y1="731.25" x2="145" y2="736.25" stroke="#111" stroke-width="0.9"/>
<line x1="142.7" y1="731.25" x2="147.3" y2="731.25" stroke="#111" stroke-width="0.9"/>
<rect x="143.1" y="734.35" width="3.8" height="3.8" fill="#111"/>
<line x1="160.5" y1="715.5" x2="160.5" y2="725" stroke="#111" stroke-width="0.9"/>
<line x1="158.2" y1="715.5" x2="162.8" y2="715.5" stroke="#111" stroke-width="0.9"/>
<rect x="158.6" y="723.1" width="3.8" height="3.8" fill="#111"/>
<line x1="176.25" y1="689.25" x2="176.25" y2="702.5" stroke="#111" stroke-width="0.9"/>
<line x1="173.95" y1="689.25" x2="178.55" y2="689.25" stroke="#111" stroke-width="0.9"/>
<rect x="174.35" y="700.6" width="3.8" height="3.8" fill="#111"/>
<line x1="191.75" y1="686.75" x2="191.75" y2="698" stroke="#111" stroke-width="0.9"/>
<line x1="189.45" y1="686.75" x2="194.05" y2="686.75" stroke="#111" stroke-width="0.9"/>
<rect x="189.85" y="696.1" width="3.8" height="3.8" fill="#111"/>
<line x1="77.5" y1="670" x2="87.5" y2="670" stroke="#9aa0a3" stroke-width="1.1"/>
<circle cx="82.5" cy="670" r="1.8" fill="#9aa0a3" stroke="none" stroke-width="0"/>
<text x="93.75" y="673.6" font-size="10" text-anchor="start" fill="#222" stroke="#222" stroke-width="0.25">PBS</text>
<line x1="77.5" y1="683.3" x2="87.5" y2="683.3" stroke="#111" stroke-width="1.1"/>
<rect x="80.6" y="681.4" width="3.8" height="3.8" fill="#111"/>
<text x="93.75" y="686.9" font-size="10" text-anchor="start" fill="#222" stroke="#222" stroke-width="0.25">WT Treg</text>
<line x1="77.5" y1="696.8" x2="87.5" y2="696.8" stroke="#e03a2f" stroke-width="1.1"/>
<polygon points="80.8,698.16 84.2,698.16 82.5,695.1" fill="#e03a2f"/>
<text x="93.75" y="700.4" font-size="10" text-anchor="start" fill="#222" stroke="#222" stroke-width="0.25">SA Treg</text>
<path d="M195.6 691.3H198V725H195.6" stroke="#231f20" stroke-width="1.05" fill="none"/>
<path d="M195.6 725.8H198V739.3H195.6" stroke="#231f20" stroke-width="1.05" fill="none"/>
<text x="207.4" y="713.95" font-size="9.8" text-anchor="middle" fill="#222" font-weight="bold">****</text>
<text x="201.5" y="737.85" font-size="9.8" text-anchor="middle" fill="#222" font-weight="bold">*</text>
</svg>
</body></html>
